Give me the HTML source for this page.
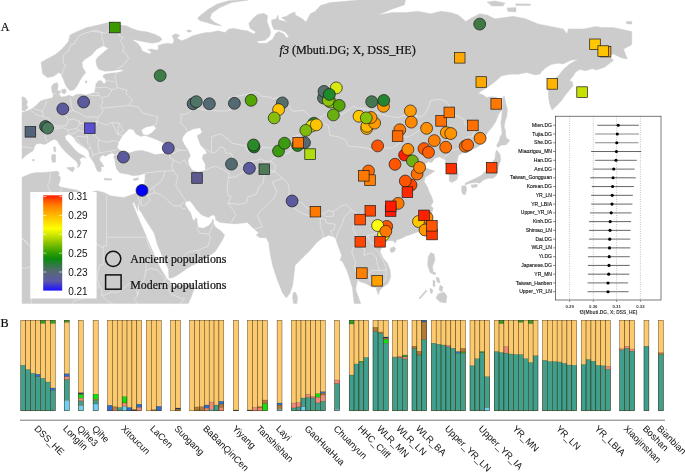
<!DOCTYPE html>
<html><head><meta charset="utf-8"><title>f3 map</title>
<style>
html,body{margin:0;padding:0;background:#fff}
svg{display:block}
text{font-family:"Liberation Sans",Arial,sans-serif}
.tm{font-family:"Liberation Serif","Times New Roman",serif;fill:#111;stroke:#111;stroke-width:.22px}
</style></head><body>
<svg width="685" height="473" viewBox="0 0 685 473">
<defs>
<linearGradient id="cb" x1="0" y1="0" x2="0" y2="1">
<stop offset="0" stop-color="#ff1e00"/>
<stop offset="0.1" stop-color="#ff7a00"/>
<stop offset="0.2" stop-color="#ffb400"/>
<stop offset="0.35" stop-color="#ffff00"/>
<stop offset="0.43" stop-color="#c4e000"/>
<stop offset="0.52" stop-color="#78bc00"/>
<stop offset="0.61" stop-color="#2c9c00"/>
<stop offset="0.67" stop-color="#0c8a10"/>
<stop offset="0.73" stop-color="#2e7a44"/>
<stop offset="0.8" stop-color="#546a72"/>
<stop offset="0.9" stop-color="#5c58a8"/>
<stop offset="1" stop-color="#1a10ff"/>
</linearGradient>
</defs>
<rect width="685" height="473" fill="#fff"/>
<g id="map" fill="#cccccc" stroke="#cccccc" stroke-width="0.4" stroke-linejoin="round">
<polygon points="22.0,112.5 27.5,110.8 32.5,108.3 36.7,105.0 40.0,101.4 42.5,100.2 47.5,98.9 52.6,97.7 53.2,95.2 51.9,91.4 51.3,87.0 53.2,83.9 57.0,82.6 58.2,85.1 57.6,90.1 58.8,93.9 61.3,97.0 65.1,96.4 68.9,95.2 72.6,96.4 76.4,94.5 81.4,93.9 85.2,95.2 90.2,93.9 94.6,92.6 95.2,88.9 95.9,83.9 98.4,80.7 101.5,80.7 104.0,83.9 105.9,82.6 105.3,78.8 102.8,77.0 104.0,74.4 110.3,73.2 117.8,72.6 124.1,70.7 120.4,69.4 112.8,70.7 105.3,71.3 99.0,69.4 96.5,65.0 95.9,60.0 97.5,57.5 103.3,52.5 108.3,48.3 103.3,45.8 96.7,49.2 91.7,55.0 85.0,59.2 82.0,62.5 82.7,67.5 85.8,72.6 82.7,76.3 80.2,80.1 77.7,85.1 74.5,89.5 70.1,90.8 67.0,87.6 64.5,82.6 62.6,77.6 60.7,73.8 58.8,72.6 53.8,76.3 47.5,77.6 42.5,73.8 41.3,63.8 40.8,62.5 48.3,58.3 55.8,54.2 61.7,49.2 68.3,41.7 70.0,35.0 76.7,31.7 86.7,27.5 98.3,25.0 108.3,22.5 114.0,22.0 120.0,25.0 126.3,25.7 132.6,28.8 138.8,30.7 147.6,31.9 155.2,34.5 160.2,37.0 162.1,39.5 158.9,42.0 152.6,43.2 145.1,42.0 138.8,40.7 132.6,39.5 132.6,40.1 137.6,43.2 140.7,47.0 142.0,50.8 146.4,52.7 150.1,53.9 151.4,52.0 147.6,49.5 151.4,48.9 156.4,50.2 158.9,48.3 157.7,45.8 162.7,43.9 167.7,43.2 172.7,43.9 174.0,40.1 172.1,35.7 175.2,33.8 179.6,35.1 177.1,38.2 181.5,40.7 186.5,38.9 192.8,35.7 200.4,33.8 206.0,32.6 210.0,32.5 218.3,30.8 225.0,32.5 228.3,29.2 233.3,28.3 241.7,30.0 247.5,30.8 253.8,33.9 255.7,32.0 250.0,28.2 248.8,23.2 253.8,17.6 257.6,14.4 263.9,13.2 267.6,15.7 267.0,21.3 268.9,26.4 270.8,32.0 269.5,36.4 265.1,40.2 256.3,41.4 258.8,43.3 266.4,43.3 272.6,38.9 275.8,33.3 278.9,31.4 283.9,33.9 286.5,37.7 289.0,37.0 285.2,32.0 280.2,30.1 273.9,29.5 272.0,25.1 271.4,20.1 276.4,18.8 277.7,15.1 278.9,20.1 282.7,20.7 287.7,22.0 281.4,17.6 286.5,16.3 290.2,13.8 295.2,11.9 295.2,15.1 300.3,17.6 304.0,20.1 305.3,23.9 302.1,26.4 300.9,22.6 303.0,21.0 306.5,21.3 310.3,13.8 315.3,11.3 320.4,5.5 330.2,2.5 345.2,1.3 359.0,0.0 405.5,0.0 404.3,5.0 393.0,8.8 377.9,15.1 392.0,12.6 405.5,12.6 418.1,11.3 430.7,13.8 440.7,11.3 450.8,12.6 458.3,15.1 465.8,21.4 472.1,17.6 479.7,13.8 487.2,15.0 494.7,18.8 504.8,17.6 513.0,16.3 525.6,18.8 538.1,23.9 550.7,26.4 563.3,28.9 567.0,33.9 568.3,28.9 583.4,28.9 595.9,26.4 600.9,27.6 613.5,27.6 626.0,30.2 631.8,31.4 631.8,44.0 631.0,45.2 623.6,49.0 627.3,59.0 621.0,57.8 613.5,54.0 608.5,55.3 613.5,60.3 604.6,67.3 596.4,70.0 592.2,68.7 585.4,70.7 579.9,69.4 575.7,72.1 573.0,76.2 569.6,80.4 572.5,82.0 573.0,85.8 569.6,90.0 566.1,94.1 562.0,100.0 556.5,106.0 552.0,110.0 549.6,104.0 548.5,97.0 548.2,88.0 550.5,82.0 557.9,76.2 563.4,69.4 568.9,64.5 574.4,61.1 578.5,59.7 573.0,59.7 567.5,61.8 563.4,63.9 557.9,63.2 551.0,64.5 545.5,68.0 541.7,71.5 540.0,74.0 535.0,75.0 526.7,72.5 518.3,74.2 510.0,74.2 501.7,75.8 495.0,81.7 488.3,86.7 481.7,90.8 478.3,93.3 483.3,95.0 486.7,97.5 490.0,96.7 496.0,97.0 500.5,100.0 501.7,110.0 498.3,115.0 495.8,121.7 492.5,126.7 488.3,131.7 485.0,136.7 485.0,140.0 478.3,146.7 471.7,150.0 466.7,152.5 461.7,153.3 458.3,155.8 456.7,163.3 458.3,175.0 456.7,180.0 451.7,182.5 449.2,180.8 449.2,175.0 447.5,168.3 445.0,163.3 445.8,160.0 441.7,158.3 440.0,156.7 435.0,158.3 431.7,162.5 428.3,161.7 425.0,164.2 422.0,166.0 426.7,168.3 431.7,170.0 435.0,170.8 430.0,174.2 425.0,177.5 424.2,181.7 427.5,186.7 429.2,191.7 431.7,196.7 433.3,201.7 430.8,205.8 433.3,208.3 431.7,213.3 430.0,220.0 425.0,226.0 418.3,231.7 411.7,234.2 406.7,235.8 401.7,238.3 396.7,240.0 395.0,243.3 393.3,240.8 388.3,240.8 385.0,243.3 381.7,247.5 380.0,251.7 383.3,258.3 387.5,263.3 390.0,270.0 390.8,276.7 388.3,283.3 383.3,286.7 380.0,290.0 378.3,295.0 376.7,290.0 375.8,287.5 371.7,286.7 365.0,283.3 360.0,281.7 358.3,280.0 356.7,283.3 355.8,290.0 358.3,296.7 360.8,303.5 354.2,303.5 353.3,296.7 352.5,288.3 350.0,280.0 346.7,270.0 343.3,263.3 341.7,260.8 340.0,260.8 341.6,255.3 337.8,245.2 335.3,237.7 329.0,235.2 322.8,237.7 316.5,242.7 310.2,250.3 302.7,257.8 295.1,265.3 293.9,275.4 292.6,285.4 290.1,293.0 286.3,298.0 282.6,293.0 277.5,280.4 272.5,265.3 270.0,252.8 268.7,242.7 266.2,237.7 259.9,237.7 256.2,235.2 258.7,232.7 252.4,227.6 247.4,222.6 234.8,223.9 228.3,223.3 220.0,222.5 215.8,220.0 215.0,215.8 212.5,215.0 208.3,217.5 201.7,215.0 196.7,210.0 193.3,205.0 190.0,200.8 185.8,201.7 185.0,204.2 187.5,208.3 190.8,213.3 192.5,219.2 194.5,220.8 195.5,218.0 197.0,218.5 197.2,223.0 198.3,227.5 203.3,228.3 208.3,225.8 211.7,222.5 212.5,219.2 213.5,220.0 213.3,223.3 215.8,227.5 220.8,230.8 224.7,235.0 222.5,240.0 218.3,246.7 215.0,251.7 208.3,256.7 200.0,261.7 191.7,265.8 186.7,268.8 177.0,275.4 172.0,277.9 169.0,278.0 168.3,268.8 162.5,256.7 157.5,245.0 154.2,233.3 146.7,221.7 141.0,212.0 139.2,210.0 138.6,204.0 137.9,203.5 137.6,210.5 134.2,202.5 133.0,202.5 132.5,203.3 135.8,211.7 140.0,221.7 145.0,233.3 150.0,245.0 155.0,256.7 160.8,268.8 167.5,279.5 170.0,281.0 172.0,286.7 182.0,285.4 193.4,284.2 194.6,288.0 190.8,298.0 188.3,303.5 22.0,303.5 22.0,177.3 25.6,175.7 30.9,173.6 36.2,172.5 42.5,172.5 48.8,172.0 54.1,171.5 57.3,171.0 59.4,173.1 58.4,175.2 60.5,177.3 59.9,181.5 58.4,185.0 60.5,187.0 66.7,188.3 76.7,190.0 82.0,193.0 88.0,196.0 92.0,192.0 96.5,190.8 104.0,192.5 110.7,195.8 117.3,196.7 124.0,197.5 130.7,195.0 137.8,192.5 142.5,192.0 144.2,185.0 145.0,178.3 145.0,173.3 140.0,175.0 133.3,175.8 127.5,174.2 121.7,173.3 119.7,172.7 116.5,168.9 115.3,163.9 114.7,158.9 113.4,157.0 115.3,155.1 112.8,153.2 109.0,153.9 105.2,156.4 103.4,155.1 100.2,157.0 99.6,160.1 102.1,163.3 104.0,166.4 100.9,167.0 101.5,170.8 99.6,172.1 97.1,170.8 95.8,167.7 94.6,163.9 92.1,160.1 89.5,156.4 88.9,152.0 86.4,148.8 81.4,145.7 76.4,141.9 73.9,137.5 70.7,135.0 67.6,134.4 65.1,136.3 65.7,139.4 68.8,142.6 72.0,146.3 75.1,150.1 78.9,153.2 83.9,155.7 85.8,158.2 82.6,157.0 79.5,159.5 80.8,162.6 79.5,166.4 77.0,167.7 78.2,165.2 76.4,161.4 72.6,158.2 67.6,153.9 62.6,148.8 59.4,144.5 57.3,140.8 54.1,139.2 51.0,140.8 47.8,142.9 44.6,144.5 40.4,143.5 36.2,144.0 34.6,146.6 33.0,150.9 28.7,153.5 24.5,156.7 22.0,159.3"/>
<polygon points="22.0,96.7 25.0,97.5 27.5,101.7 26.7,105.0 28.3,107.5 25.0,110.8 22.0,110.8"/>
<polygon points="61.5,89.5 65.5,89.0 66.4,92.0 64.5,93.9 62.0,93.0"/>
<polygon points="57.8,91.0 60.5,90.8 60.5,93.3 58.2,93.3"/>
<polygon points="32.4,159.5 34.6,159.3 34.4,160.9 32.6,160.9"/>
<polygon points="85.4,80.7 87.0,81.0 86.6,83.2 85.2,82.8"/>
<polygon points="186.5,30.3 190.5,30.0 191.6,31.5 188.0,32.2"/>
<polygon points="197.5,18.3 201.7,14.2 208.3,9.2 216.7,4.2 228.3,0.8 240.0,0.0 248.3,0.0 231.7,2.5 220.0,7.5 211.7,13.3 210.0,18.3 215.0,22.5 221.7,25.8 215.0,25.0 206.7,22.5 200.0,20.8"/>
<polygon points="504.2,95.8 505.8,103.3 507.5,110.0 506.7,116.7 505.0,121.7 504.2,126.7 505.8,131.7 505.0,138.8 503.5,141.0 502.5,138.8 501.7,130.0 500.8,123.3 501.7,116.7 502.2,110.0 502.5,98.3"/>
<polygon points="500.0,136.7 502.5,133.3 504.0,132.0 506.7,138.3 510.0,140.5 505.8,145.0 501.7,145.0 497.5,147.5 496.7,145.0 499.2,140.8"/>
<polygon points="496.7,150.0 500.0,154.2 500.8,160.0 498.3,166.7 496.7,175.0 493.3,178.3 488.3,178.3 483.3,180.0 480.0,183.3 475.8,182.5 470.0,183.3 465.0,185.0 465.0,183.3 470.0,180.8 475.8,178.3 481.7,175.0 486.7,170.0 491.7,163.3 495.0,158.3 495.8,151.7"/>
<polygon points="461.7,186.0 466.0,185.8 466.7,190.0 465.0,195.0 462.5,194.0 461.5,190.0"/>
<polygon points="470.8,185.0 477.5,184.2 477.0,187.0 472.0,187.8"/>
<polygon points="431.0,223.0 434.0,224.0 434.0,231.0 431.5,238.0 429.0,233.0 428.5,227.0"/>
<polygon points="390.5,248.0 394.0,246.7 395.8,248.5 394.0,252.0 391.0,252.5 390.0,250.0"/>
<polygon points="430.8,252.5 434.2,254.2 435.0,260.0 432.5,266.7 433.3,271.7 436.0,273.0 435.0,275.0 430.0,272.5 427.5,265.0 428.3,256.7"/>
<polygon points="436.0,277.0 439.0,278.0 440.0,283.0 437.0,282.0"/>
<polygon points="440.0,285.0 443.0,287.0 442.0,292.0 439.0,290.0"/>
<polygon points="438.0,294.0 444.0,292.0 447.0,296.0 446.0,303.0 440.0,302.0 436.0,298.0"/>
<polygon points="433.0,280.0 435.0,281.0 435.0,287.0 433.0,286.0"/>
<polygon points="430.0,288.0 433.0,290.0 432.0,294.0 430.0,292.0"/>
<polygon points="419.0,298.0 426.0,290.0 427.0,291.0 420.0,299.0"/>
<polygon points="293.0,293.0 295.5,292.0 297.5,297.0 297.0,303.5 293.5,303.5 292.5,298.0"/>
<polygon points="66.3,167.7 73.9,167.0 74.5,168.9 72.6,172.1 68.8,169.5"/>
<polygon points="52.0,154.5 55.6,154.5 55.6,162.0 52.5,162.6 51.3,158.0"/>
<polygon points="53.5,147.0 55.5,146.7 55.8,151.7 54.0,151.5"/>
<polygon points="104.0,178.3 111.5,178.8 111.5,180.2 104.5,180.0"/>
<polygon points="133.0,179.0 138.5,177.5 138.0,180.0 134.0,180.5"/>
<polygon points="487.0,2.0 495.0,1.0 505.0,3.0 503.0,6.0 492.0,6.0"/>
<polygon points="507.0,8.0 516.0,7.5 516.0,12.0 508.0,11.5"/>
<polygon points="626.0,21.6 631.8,21.4 631.8,24.0 627.0,24.0"/>
<polygon points="515.5,3.8 530.6,4.0 530.0,5.5 516.0,5.5"/>
</g>
<g id="water" fill="#fff" stroke="#fff" stroke-width="0.3" stroke-linejoin="round">
<polygon points="117.5,147.5 119.2,141.7 123.3,135.0 129.2,129.2 133.3,130.0 135.8,134.2 140.8,136.7 145.0,135.8 150.0,137.5 156.7,140.0 161.7,142.5 168.0,147.0 170.0,151.7 163.3,153.3 155.0,154.2 148.3,151.7 141.7,150.0 135.0,150.8 130.0,152.5 125.0,151.7 120.0,150.0"/>
<polygon points="141.7,130.0 145.8,127.5 153.3,125.8 155.8,128.3 151.7,132.5 147.5,135.0 143.3,134.2"/>
<polygon points="183.3,136.7 186.7,132.5 193.3,129.2 200.0,128.3 201.7,132.5 196.7,135.8 198.3,140.0 200.0,145.0 204.2,149.2 206.7,153.3 203.3,154.2 201.7,158.3 205.0,164.2 205.0,170.0 198.3,171.7 192.5,170.0 189.2,165.0 188.3,160.0 190.8,155.8 188.3,150.0 185.0,145.0 182.5,140.0"/>
<polygon points="116.0,154.0 121.0,152.8 122.0,154.0 117.0,155.5"/>
</g>
<g id="borders" fill="none" stroke="#f4f4f4" stroke-width="0.5" stroke-linejoin="round">
<polyline points="187.9,130.9 181.1,123.5 181.1,114.7 187.2,113.9 194.6,107.7 206.5,110.4 213.3,110.4 221.7,111.2 230.2,110.4 228.5,98.1 245.4,94.6 255.6,91.5 262.3,96.4 270.8,97.2 272.5,99.0 281.0,96.4 285.7,100.7 292.8,111.2 303.6,110.4 310.4,116.5 317.5,118.2"/>
<polyline points="319.2,118.2 326.6,113.9 335.1,111.2 341.9,114.7 353.7,106.0 357.1,108.2 367.9,109.0 368.3,112.5 377.4,113.0 384.2,115.2 397.7,117.8 407.9,113.9 417.0,115.6"/>
<polyline points="319.2,118.2 322.6,122.6 328.3,125.7 330.0,135.3 338.5,137.0 345.3,140.1 348.3,146.2 363.9,147.5 377.4,151.5 385.9,148.0 392.7,148.0 400.4,142.3 400.8,136.6 407.9,137.0 414.7,133.5 419.4,130.0 427.2,129.2 421.4,123.9 414.7,120.0 417.0,115.6"/>
<polyline points="417.0,115.6 420.8,116.9 425.8,113.4 428.2,107.3 430.9,100.3 440.0,99.4 446.8,101.6 453.6,113.9 463.7,119.5 465.4,124.8 478.0,122.2 475.6,126.5 472.5,136.2 466.1,137.5 466.1,143.6 464.1,148.0"/>
<polyline points="464.1,148.0 460.4,148.0 455.3,149.7 451.6,150.6 446.1,155.8 442.8,158.5"/>
<polyline points="450.9,168.1 456.3,164.6"/>
<polyline points="317.5,118.2 312.1,122.2 311.4,127.9 303.0,127.0 300.6,134.4 293.5,136.6 295.5,144.5 293.5,148.8"/>
<polyline points="293.5,148.8 289.4,146.7 278.2,146.2 270.8,148.0 262.3,147.1 262.0,148.4"/>
<polyline points="293.5,148.8 286.7,153.7 282.3,154.1 271.8,159.3 271.1,161.1"/>
<polyline points="271.1,161.1 275.5,165.5 275.2,170.3 274.5,171.6"/>
<polyline points="271.1,161.1 265.0,161.5 261.0,158.9 256.6,160.7 250.1,161.5 252.2,171.6 258.9,169.0 264.0,165.9 264.0,172.5 270.1,169.8 274.5,171.6"/>
<polyline points="262.0,148.4 255.6,152.3 252.2,153.7 247.1,150.2 245.4,145.8 231.9,143.2 228.5,139.2 220.0,134.0 211.6,136.6 211.6,152.8 214.9,152.8 220.4,146.7 225.1,148.8 225.4,152.8 231.5,153.7 233.2,158.5 239.3,163.3 247.1,169.8 252.2,171.6"/>
<polyline points="211.6,152.8 207.2,149.7 199.7,150.6"/>
<polyline points="204.5,170.3 212.2,167.2 215.6,166.3 222.7,169.4 229.2,173.3 228.5,177.7 235.3,176.8 240.3,174.2 247.1,169.8"/>
<polyline points="228.5,177.7 227.1,186.9 228.1,195.6 231.2,196.1 228.1,203.1 235.9,214.5 230.5,223.2"/>
<polyline points="228.1,203.1 238.6,204.4 246.4,203.1 247.8,197.0 256.6,193.9 258.9,186.9 262.7,183.8 264.4,174.2 274.5,171.6"/>
<polyline points="274.5,171.6 282.6,178.2 272.5,181.7 276.9,192.1 273.8,197.8 269.1,202.6 260.6,211.0 257.6,215.3 259.6,221.0 262.3,226.7 252.9,229.8"/>
<polyline points="282.6,178.2 287.7,182.5 289.4,191.3 288.7,197.0 296.2,201.3 301.3,202.6 306.3,207.5 313.1,211.0 319.9,211.4 323.3,214.0 328.3,210.5 333.4,211.8 341.9,205.7 347.0,204.8 351.4,210.1 356.1,213.1 355.4,220.6 352.7,228.5 357.1,237.2 361.2,239.4 364.6,240.7 367.6,235.5 374.0,234.1 378.4,231.5 383.2,233.7 383.2,237.2 387.2,239.4"/>
<polyline points="293.1,207.5 297.9,211.0 303.0,213.6 312.4,217.1 320.2,218.0 320.2,211.4"/>
<polyline points="323.3,214.0 326.0,216.6 333.4,216.2 333.4,211.8"/>
<polyline points="320.2,218.0 320.2,226.3 322.6,232.0 323.3,239.0"/>
<polyline points="320.2,218.0 326.0,219.7 326.0,222.8 335.1,224.1 334.1,229.8 330.7,230.6 331.7,233.3 335.5,240.3"/>
<polyline points="351.4,210.1 344.3,217.1 342.2,224.1 337.8,232.8 335.5,240.3"/>
<polyline points="360.8,244.6 357.1,246.0 353.7,247.3 351.7,252.5 355.8,262.1 354.4,266.9 357.8,276.6 357.8,282.3 356.1,288.8"/>
<polyline points="364.6,240.7 360.8,244.6"/>
<polyline points="360.8,244.6 362.2,248.1 364.6,248.1 363.9,255.6 367.6,253.8 371.7,252.9 376.4,257.3 376.7,262.1 379.5,270.4"/>
<polyline points="367.6,235.5 370.7,242.5 375.7,244.2 374.0,248.1 378.1,251.6 382.5,259.1 385.9,266.9 386.2,270.0"/>
<polyline points="379.5,270.4 386.2,270.0 385.9,278.8 380.8,285.3 375.4,287.9"/>
<polyline points="370.3,282.3 368.6,273.9 372.3,270.4 379.5,270.4"/>
<polyline points="173.6,159.8 171.6,165.5 173.6,170.7 177.7,176.8 175.7,184.7 178.0,189.1 183.5,197.8 186.5,202.2"/>
<polyline points="144.5,176.0 146.2,172.5 150.6,172.5 159.8,171.2 165.5,171.2 173.6,170.7"/>
<polyline points="162.5,151.9 169.2,153.7 169.9,158.0 173.6,159.8 179.4,163.3 184.5,159.8 187.5,165.5"/>
<polyline points="157.4,143.6 165.9,144.5 172.6,146.7 179.4,150.2 186.5,150.6"/>
<polyline points="169.2,153.7 174.3,152.8 179.4,150.2"/>
<polyline points="165.5,171.2 161.5,181.2 153.3,187.3 154.7,192.6 147.2,195.6 150.6,200.0 148.9,202.2 143.9,205.7 140.5,204.8"/>
<polyline points="153.3,187.3 146.6,192.1 142.8,190.4 142.5,187.8 145.9,183.8 143.9,182.1"/>
<polyline points="142.5,190.4 142.2,195.6 140.5,204.4"/>
<polyline points="138.1,196.5 140.1,204.4"/>
<polyline points="154.7,192.6 158.8,193.9 164.5,197.4 173.3,205.7 179.4,206.1 183.5,202.2 184.5,202.2"/>
<polyline points="179.4,206.1 182.8,208.8 185.8,208.8"/>
<polyline points="166.9,261.7 168.6,257.3 175.0,257.3 181.1,259.5 187.9,252.1 198.0,250.3 208.2,246.0 210.5,237.2 208.9,234.1 200.1,233.3 196.7,227.6"/>
<polyline points="198.0,250.3 201.7,260.8"/>
<polyline points="208.9,234.1 211.6,227.6 212.9,224.5"/>
<polyline points="106.6,195.2 106.6,237.2 146.9,237.2"/>
<polyline points="106.6,237.2 106.6,246.0 103.2,246.0 103.2,248.1 76.2,231.1 72.8,232.8 70.1,234.6 62.6,230.6 55.8,226.3 54.2,218.4 55.8,215.3 55.2,206.6 54.2,201.3 56.9,198.3 56.5,195.2 60.9,191.3 60.9,188.2"/>
<polyline points="54.2,201.3 50.1,191.3 47.4,185.6 49.8,181.7 50.4,172.0"/>
<polyline points="62.6,230.6 47.4,242.5 36.2,249.9 32.8,247.7 32.5,249.9 28.1,244.6 22.0,238.1"/>
<polyline points="72.8,232.8 75.8,244.2 74.5,259.9 67.7,270.4 70.1,277.4 71.4,280.1"/>
<polyline points="36.2,249.9 36.2,259.5 33.8,266.1 25.0,268.3 22.0,267.8"/>
<polyline points="33.8,266.1 34.2,282.3 31.5,289.7 31.1,298.9 31.1,305.4"/>
<polyline points="67.7,270.4 67.7,273.5 55.8,275.7 45.7,276.6 37.2,273.5 34.2,282.3"/>
<polyline points="103.2,248.1 103.2,264.8 99.5,265.2 98.2,271.8 96.8,277.9 99.5,285.8 102.2,290.6 101.5,295.4"/>
<polyline points="71.4,280.1 72.8,289.7 69.1,291.4 74.5,300.6 71.1,305.0"/>
<polyline points="74.5,300.6 84.6,298.4 93.1,291.9 99.5,285.8"/>
<polyline points="101.5,295.4 106.6,300.2 114.7,305.0"/>
<polyline points="101.5,295.4 104.9,294.9 111.7,291.9 116.8,292.8 123.5,288.4 132.0,280.9 134.4,286.6 137.1,291.9 137.4,295.8 133.7,299.3 138.8,304.6"/>
<polyline points="146.9,237.2 147.2,241.6 152.7,254.7 147.2,259.1 145.6,270.9 150.3,268.3 157.4,270.0 165.5,278.8 167.9,277.9"/>
<polyline points="145.6,270.9 144.5,278.3 140.5,285.3 137.4,295.8"/>
<polyline points="165.5,278.8 163.5,283.1 167.6,283.1 168.6,283.6"/>
<polyline points="167.6,283.1 166.9,285.8 170.9,294.1 181.1,298.4 184.5,298.4 174.3,311.6 169.2,312.4"/>
<polyline points="28.1,244.6 26.1,241.6 22.0,238.1"/>
<polyline points="117.1,26.8 120.2,31.6 118.5,35.1 123.5,37.3 120.2,40.8 123.9,46.1 122.5,51.3 125.2,52.6 128.6,58.3 122.9,65.7 116.4,68.8"/>
<polyline points="91.7,31.2 102.2,32.5 101.5,36.4 103.2,41.2 103.9,45.6"/>
<polyline points="109.3,29.4 113.4,27.7 117.1,26.8"/>
<polyline points="91.7,31.2 95.5,30.3 105.6,33.4 109.3,29.4"/>
<polyline points="91.7,31.2 83.3,33.8 78.5,36.4 74.1,43.9 71.1,44.3 68.4,50.9 65.0,53.5 63.0,55.7 63.3,63.6 65.7,65.3 63.3,70.1 61.9,74.5 59.9,74.9"/>
<polyline points="116.8,73.2 114.7,76.2 115.8,80.6 117.5,87.6 126.6,90.2 126.3,93.7 132.7,99.9 128.3,105.5 138.4,106.9 142.5,113.0 150.6,115.2 157.7,116.5 156.4,123.9 151.3,127.4"/>
<polyline points="99.2,95.5 101.5,97.7 102.9,102.9 100.5,105.1 101.9,108.2 103.2,111.2 98.5,116.9 96.8,121.7 106.3,124.8 112.0,122.6 117.5,134.4 122.5,135.7"/>
<polyline points="89.0,95.5 99.2,95.5 98.8,93.3 94.1,92.0"/>
<polyline points="93.1,88.0 106.6,87.2 112.0,89.8 117.5,87.6"/>
<polyline points="104.6,80.2 114.7,81.9"/>
<polyline points="112.0,89.8 108.3,95.9 101.5,97.7"/>
<polyline points="128.3,105.5 101.9,108.2"/>
<polyline points="70.1,97.7 71.4,103.4 71.8,107.7 72.8,110.4 63.0,113.4 68.7,120.0 66.0,125.7 56.5,126.1 54.5,125.7 47.7,125.2 49.8,119.1 43.7,116.9 42.3,111.2 45.7,105.1 46.4,100.7"/>
<polyline points="72.8,110.4 79.2,113.0 85.6,116.9 98.5,116.9"/>
<polyline points="68.7,120.0 72.8,119.1 79.2,120.9 80.2,123.5 96.8,121.7"/>
<polyline points="79.2,120.9 80.2,123.5 76.5,128.3 78.2,130.0 85.6,132.7 90.7,131.4 96.5,124.8 96.8,121.7"/>
<polyline points="54.5,125.7 57.5,128.3 63.3,127.9 68.4,130.0 76.5,128.3"/>
<polyline points="47.7,125.2 42.3,131.4 45.7,132.7 50.8,131.4 57.5,128.3"/>
<polyline points="43.7,116.9 36.2,114.7 30.5,109.9"/>
<polyline points="42.3,111.2 33.5,108.6"/>
<polyline points="42.3,131.4 45.7,132.7 45.0,137.5 47.4,141.8"/>
<polyline points="68.4,130.0 68.0,134.0"/>
<polyline points="78.2,130.0 75.1,133.1 68.0,134.4"/>
<polyline points="85.6,132.7 87.7,137.0 86.3,137.0 76.8,136.2 75.5,137.5 81.6,145.3 84.6,147.5"/>
<polyline points="90.7,131.4 94.8,135.7 98.2,138.3 98.8,140.1 97.8,146.2 99.9,152.8"/>
<polyline points="87.7,137.0 87.7,143.2 90.7,146.2 89.7,147.1 87.7,150.2"/>
<polyline points="89.7,147.1 91.7,150.2 93.1,155.0 89.7,159.8"/>
<polyline points="93.1,155.0 99.9,152.8 111.0,151.0 112.0,152.8 110.0,155.0"/>
<polyline points="98.8,140.1 106.6,142.3 113.4,140.5 118.8,142.3"/>
<polyline points="111.0,151.0 116.8,149.7"/>
<polyline points="117.5,134.4 119.1,123.0 112.0,122.6"/>
<polyline points="117.5,134.4 123.5,130.5 120.8,125.7 119.1,123.0"/>
<polyline points="22.0,146.7 27.1,147.5 32.8,148.0"/>
<polyline points="51.4,93.3 55.5,93.7"/>
</g>
<g id="markers" stroke="#1a1a1a" stroke-width="0.7">
<rect x="109.60" y="22.20" width="10.6" height="10.6" fill="#3c9a00"/>
<circle cx="160.2" cy="75.6" r="5.95" fill="#3e7d45"/>
<circle cx="479.7" cy="24.1" r="5.95" fill="#3f7a44"/>
<rect x="454.40" y="52.50" width="10.6" height="10.6" fill="#ffa800"/>
<rect x="476.00" y="76.70" width="10.6" height="10.6" fill="#ffa800"/>
<rect x="490.90" y="98.60" width="10.6" height="10.6" fill="#ff7800"/>
<rect x="589.70" y="39.00" width="10.6" height="10.6" fill="#ffc800"/>
<rect x="600.30" y="46.30" width="10.6" height="10.6" fill="#ffa800"/>
<rect x="597.90" y="45.80" width="10.6" height="10.6" fill="#ffc400"/>
<rect x="547.00" y="78.60" width="10.6" height="10.6" fill="#ffb400"/>
<rect x="576.80" y="86.80" width="10.6" height="10.6" fill="#c8e000"/>
<circle cx="62.8" cy="108.9" r="5.95" fill="#5c5a9e"/>
<circle cx="83.6" cy="102" r="5.95" fill="#5c5a9e"/>
<rect x="25.10" y="126.50" width="10.6" height="10.6" fill="#52637a"/>
<circle cx="45.5" cy="126.5" r="5.95" fill="#3f6e52"/>
<circle cx="47.6" cy="128.1" r="5.95" fill="#4a7a5e"/>
<rect x="84.50" y="122.90" width="10.6" height="10.6" fill="#5a4fd0"/>
<circle cx="123.4" cy="157.1" r="5.95" fill="#5c5a9e"/>
<circle cx="168.3" cy="148.1" r="5.95" fill="#5c5a9e"/>
<circle cx="142" cy="190.4" r="5.95" fill="#0000ff"/>
<rect x="191.70" y="172.70" width="10.6" height="10.6" fill="#5c5a8e"/>
<circle cx="231.5" cy="164.1" r="5.95" fill="#546a72"/>
<circle cx="249.4" cy="168.3" r="5.95" fill="#5c5a9e"/>
<rect x="259.00" y="163.90" width="10.6" height="10.6" fill="#4f7a5a"/>
<circle cx="292.1" cy="201" r="5.95" fill="#5c5a9e"/>
<rect x="310.10" y="206.40" width="10.6" height="10.6" fill="#ff7800"/>
<circle cx="193.1" cy="103.8" r="5.95" fill="#52686f"/>
<circle cx="196.3" cy="101.7" r="5.95" fill="#4f7566"/>
<circle cx="209.4" cy="103.8" r="5.95" fill="#546a72"/>
<circle cx="234.4" cy="103.3" r="5.95" fill="#546a72"/>
<circle cx="251.1" cy="100.3" r="5.95" fill="#55a505"/>
<circle cx="254" cy="147" r="5.95" fill="#1f7a20"/>
<circle cx="253.5" cy="145" r="5.95" fill="#2a8a2a"/>
<circle cx="282.3" cy="102.9" r="5.95" fill="#546e6a"/>
<circle cx="278.6" cy="109.6" r="5.95" fill="#ffc400"/>
<circle cx="274.2" cy="117.9" r="5.95" fill="#86bf0b"/>
<circle cx="278.5" cy="151" r="5.95" fill="#3c9a10"/>
<circle cx="284.5" cy="143.2" r="5.95" fill="#3c9a10"/>
<circle cx="297.6" cy="145.5" r="5.95" fill="#1f8a1f"/>
<circle cx="304.5" cy="142.7" r="5.95" fill="#546a72"/>
<rect x="292.90" y="137.40" width="10.6" height="10.6" fill="#ff7800"/>
<rect x="304.80" y="148.80" width="10.6" height="10.6" fill="#b0dc10"/>
<circle cx="313.8" cy="123.2" r="5.95" fill="#2a8a2a"/>
<circle cx="311.7" cy="126" r="5.95" fill="#e8e810"/>
<circle cx="316.3" cy="124.8" r="5.95" fill="#ffc400"/>
<circle cx="305.8" cy="130.4" r="5.95" fill="#7fba0b"/>
<circle cx="323.5" cy="98" r="5.95" fill="#546e6a"/>
<circle cx="324" cy="91.4" r="5.95" fill="#546e6a"/>
<circle cx="336.3" cy="87.9" r="5.95" fill="#d9e810"/>
<circle cx="330.4" cy="102" r="5.95" fill="#9ccc10"/>
<circle cx="328.3" cy="100.4" r="5.95" fill="#8cc50a"/>
<circle cx="329.4" cy="94.4" r="5.95" fill="#1f8a2a"/>
<circle cx="339.2" cy="105.4" r="5.95" fill="#55a505"/>
<circle cx="333.4" cy="114.9" r="5.95" fill="#6aaf10"/>
<circle cx="383.5" cy="106.3" r="5.95" fill="#ff9a00"/>
<circle cx="371.7" cy="101.7" r="5.95" fill="#44774f"/>
<circle cx="383.8" cy="100.4" r="5.95" fill="#238530"/>
<circle cx="366.7" cy="128.5" r="5.95" fill="#ffb000"/>
<circle cx="366.9" cy="126.3" r="5.95" fill="#ffb800"/>
<circle cx="374.6" cy="123.1" r="5.95" fill="#ff9a00"/>
<circle cx="371" cy="117.5" r="5.95" fill="#ff9500"/>
<circle cx="359" cy="116.3" r="5.95" fill="#ffc800"/>
<circle cx="366.3" cy="117.9" r="5.95" fill="#86c20b"/>
<circle cx="410.4" cy="110.9" r="5.95" fill="#ff9a00"/>
<circle cx="411.3" cy="122.1" r="5.95" fill="#ff8800"/>
<circle cx="399.8" cy="129.8" r="5.95" fill="#ff7a00"/>
<rect x="392.30" y="130.80" width="10.6" height="10.6" fill="#ff6a00"/>
<circle cx="426.6" cy="128.3" r="5.95" fill="#ff9000"/>
<rect x="435.80" y="115.60" width="10.6" height="10.6" fill="#ff7000"/>
<rect x="444.00" y="107.10" width="10.6" height="10.6" fill="#ff7800"/>
<rect x="467.60" y="120.10" width="10.6" height="10.6" fill="#ff7000"/>
<circle cx="377.6" cy="145.9" r="5.95" fill="#ff5500"/>
<circle cx="404.6" cy="155" r="5.95" fill="#ff2000"/>
<circle cx="407.9" cy="149.4" r="5.95" fill="#ff8c00"/>
<circle cx="424" cy="148.6" r="5.95" fill="#ff5a00"/>
<circle cx="428.5" cy="152.3" r="5.95" fill="#ff6000"/>
<circle cx="434.3" cy="140.6" r="5.95" fill="#ff8000"/>
<circle cx="446.3" cy="132.6" r="5.95" fill="#ff9a00"/>
<circle cx="450.8" cy="133.5" r="5.95" fill="#ff9200"/>
<circle cx="445.7" cy="147.2" r="5.95" fill="#ff7000"/>
<circle cx="465.2" cy="146.3" r="5.95" fill="#ff7000"/>
<circle cx="467.6" cy="145" r="5.95" fill="#ff6800"/>
<circle cx="480.1" cy="138.3" r="5.95" fill="#ff8000"/>
<circle cx="412.4" cy="160.9" r="5.95" fill="#70b010"/>
<circle cx="417.1" cy="174" r="5.95" fill="#ff7000"/>
<circle cx="419.6" cy="167.5" r="5.95" fill="#ff8000"/>
<circle cx="395" cy="164.3" r="5.95" fill="#ff5500"/>
<circle cx="411" cy="185" r="5.95" fill="#ff4500"/>
<circle cx="405.3" cy="181" r="5.95" fill="#ff5500"/>
<rect x="402.10" y="186.80" width="10.6" height="10.6" fill="#ff2800"/>
<rect x="446.00" y="163.30" width="10.6" height="10.6" fill="#ff3000"/>
<rect x="486.40" y="162.40" width="10.6" height="10.6" fill="#ff4500"/>
<circle cx="368.5" cy="171" r="5.95" fill="#ff6a00"/>
<rect x="364.70" y="174.80" width="10.6" height="10.6" fill="#ff8000"/>
<rect x="358.50" y="170.50" width="10.6" height="10.6" fill="#ff7800"/>
<circle cx="398.1" cy="203.4" r="5.95" fill="#ff7800"/>
<rect x="385.30" y="205.70" width="10.6" height="10.6" fill="#ff1a00"/>
<rect x="385.50" y="201.00" width="10.6" height="10.6" fill="#ff1a00"/>
<rect x="365.00" y="205.50" width="10.6" height="10.6" fill="#ff4500"/>
<rect x="354.80" y="214.30" width="10.6" height="10.6" fill="#ff5000"/>
<circle cx="383.5" cy="235" r="5.95" fill="#ffff10"/>
<circle cx="386.7" cy="226.4" r="5.95" fill="#ff5500"/>
<circle cx="377.6" cy="225.5" r="5.95" fill="#ffff10"/>
<circle cx="385.8" cy="231.3" r="5.95" fill="#ff7800"/>
<rect x="355.00" y="236.50" width="10.6" height="10.6" fill="#ff4500"/>
<rect x="374.70" y="236.50" width="10.6" height="10.6" fill="#ff3c00"/>
<rect x="356.60" y="267.80" width="10.6" height="10.6" fill="#ff8000"/>
<rect x="371.80" y="275.50" width="10.6" height="10.6" fill="#ffa000"/>
<circle cx="427" cy="217.5" r="5.95" fill="#ff9000"/>
<circle cx="418.5" cy="221.5" r="5.95" fill="#ffc800"/>
<circle cx="425" cy="230" r="5.95" fill="#ff9800"/>
<rect x="426.70" y="229.20" width="10.6" height="10.6" fill="#ff3800"/>
<rect x="418.70" y="210.10" width="10.6" height="10.6" fill="#ff2000"/>
<rect x="426.60" y="220.50" width="10.6" height="10.6" fill="#ff5500"/>
</g>
<g id="legend">
<rect x="30.3" y="192" width="66.3" height="106.5" fill="#fff"/>
<rect x="43.2" y="195.3" width="19" height="95.3" fill="url(#cb)"/>
<text x="68.2" y="200.30" font-size="10" fill="#111">0.31</text>
<line x1="43.2" y1="196.60" x2="46.4" y2="196.60" stroke="#fff" stroke-width=".6"/>
<line x1="59" y1="196.60" x2="62.2" y2="196.60" stroke="#fff" stroke-width=".6"/>
<text x="68.2" y="219.15" font-size="10" fill="#111">0.29</text>
<line x1="43.2" y1="215.45" x2="46.4" y2="215.45" stroke="#fff" stroke-width=".6"/>
<line x1="59" y1="215.45" x2="62.2" y2="215.45" stroke="#fff" stroke-width=".6"/>
<text x="68.2" y="238.00" font-size="10" fill="#111">0.27</text>
<line x1="43.2" y1="234.30" x2="46.4" y2="234.30" stroke="#fff" stroke-width=".6"/>
<line x1="59" y1="234.30" x2="62.2" y2="234.30" stroke="#fff" stroke-width=".6"/>
<text x="68.2" y="256.85" font-size="10" fill="#111">0.25</text>
<line x1="43.2" y1="253.15" x2="46.4" y2="253.15" stroke="#fff" stroke-width=".6"/>
<line x1="59" y1="253.15" x2="62.2" y2="253.15" stroke="#fff" stroke-width=".6"/>
<text x="68.2" y="275.70" font-size="10" fill="#111">0.23</text>
<line x1="43.2" y1="272.00" x2="46.4" y2="272.00" stroke="#fff" stroke-width=".6"/>
<line x1="59" y1="272.00" x2="62.2" y2="272.00" stroke="#fff" stroke-width=".6"/>
<text x="68.2" y="294.55" font-size="10" fill="#111">0.21</text>
<circle cx="113.2" cy="258.8" r="7.6" fill="none" stroke="#111" stroke-width="1.5"/>
<rect x="105.6" y="274.9" width="15.5" height="14.3" fill="none" stroke="#111" stroke-width="1.5"/>
<text x="130.3" y="262.8" font-size="11.9" class="tm">Ancient populations</text>
<text x="130.3" y="289.2" font-size="11.9" class="tm">Modern populations</text>
</g>
<text x="0.8" y="30.6" font-size="12.2" class="tm">A</text>
<text x="0.5" y="327.4" font-size="12.2" class="tm">B</text>
<text x="279.6" y="53.8" font-size="12.1" class="tm"><tspan font-style="italic">f3</tspan> (Mbuti.DG; X, DSS_HE)</text>
<g id="inset">
<rect x="555.6" y="116.2" width="105.39999999999998" height="183.8" fill="#fff" stroke="#222" stroke-width="0.6"/>
<line x1="569.6" y1="116.2" x2="569.6" y2="300.0" stroke="#555" stroke-width="0.5" stroke-dasharray="0.7 1.6"/>
<line x1="569.6" y1="300.0" x2="569.6" y2="301.8" stroke="#222" stroke-width="0.5"/>
<text x="569.6" y="308" font-size="4.3" text-anchor="middle" font-weight="bold" fill="#333">0.29</text>
<line x1="593.3" y1="116.2" x2="593.3" y2="300.0" stroke="#555" stroke-width="0.5" stroke-dasharray="0.7 1.6"/>
<line x1="593.3" y1="300.0" x2="593.3" y2="301.8" stroke="#222" stroke-width="0.5"/>
<text x="593.3" y="308" font-size="4.3" text-anchor="middle" font-weight="bold" fill="#333">0.30</text>
<line x1="616.6" y1="116.2" x2="616.6" y2="300.0" stroke="#555" stroke-width="0.5" stroke-dasharray="0.7 1.6"/>
<line x1="616.6" y1="300.0" x2="616.6" y2="301.8" stroke="#222" stroke-width="0.5"/>
<text x="616.6" y="308" font-size="4.3" text-anchor="middle" font-weight="bold" fill="#333">0.31</text>
<line x1="640.4" y1="116.2" x2="640.4" y2="300.0" stroke="#555" stroke-width="0.5" stroke-dasharray="0.7 1.6"/>
<line x1="640.4" y1="300.0" x2="640.4" y2="301.8" stroke="#222" stroke-width="0.5"/>
<text x="640.4" y="308" font-size="4.3" text-anchor="middle" font-weight="bold" fill="#333">0.32</text>
<line x1="597.3" y1="125.25" x2="638.8" y2="125.25" stroke="#222" stroke-width="0.7"/>
<circle cx="618.2" cy="125.25" r="1.55" fill="#000"/>
<line x1="553.0" y1="125.25" x2="555.6" y2="125.25" stroke="#222" stroke-width="0.5"/>
<text x="552.0" y="126.85" font-size="5.05" text-anchor="end" fill="#111" stroke="#111" stroke-width=".12">Mien.DG</text>
<line x1="595.1" y1="134.01" x2="639" y2="134.01" stroke="#8a8a8a" stroke-width="1.2"/>
<circle cx="617.3" cy="134.01" r="1.55" fill="#000"/>
<line x1="553.0" y1="134.01" x2="555.6" y2="134.01" stroke="#222" stroke-width="0.5"/>
<text x="552.0" y="135.61" font-size="5.05" text-anchor="end" fill="#111" stroke="#111" stroke-width=".12">Tujia.DG</text>
<line x1="595.1" y1="142.77" x2="638.4" y2="142.77" stroke="#8a8a8a" stroke-width="1.2"/>
<circle cx="616.8" cy="142.77" r="1.55" fill="#000"/>
<line x1="553.0" y1="142.77" x2="555.6" y2="142.77" stroke="#222" stroke-width="0.5"/>
<text x="552.0" y="144.37" font-size="5.05" text-anchor="end" fill="#111" stroke="#111" stroke-width=".12">She.DG</text>
<line x1="591.1" y1="151.53" x2="641.2" y2="151.53" stroke="#222" stroke-width="0.7"/>
<circle cx="616.4" cy="151.53" r="1.55" fill="#000"/>
<line x1="553.0" y1="151.53" x2="555.6" y2="151.53" stroke="#222" stroke-width="0.5"/>
<text x="552.0" y="153.13" font-size="5.05" text-anchor="end" fill="#111" stroke="#111" stroke-width=".12">Miaozigou_MN</text>
<line x1="595.1" y1="160.29" x2="636.8" y2="160.29" stroke="#8a8a8a" stroke-width="1.2"/>
<circle cx="616" cy="160.29" r="1.55" fill="#000"/>
<line x1="553.0" y1="160.29" x2="555.6" y2="160.29" stroke="#222" stroke-width="0.5"/>
<text x="552.0" y="161.89" font-size="5.05" text-anchor="end" fill="#111" stroke="#111" stroke-width=".12">Han.DG</text>
<line x1="592.9" y1="169.05" x2="634.6" y2="169.05" stroke="#8a8a8a" stroke-width="1.2"/>
<circle cx="613.7" cy="169.05" r="1.55" fill="#000"/>
<line x1="553.0" y1="169.05" x2="555.6" y2="169.05" stroke="#222" stroke-width="0.5"/>
<text x="552.0" y="170.65" font-size="5.05" text-anchor="end" fill="#111" stroke="#111" stroke-width=".12">Ami.DG</text>
<line x1="590.2" y1="177.81" x2="635.7" y2="177.81" stroke="#222" stroke-width="0.7"/>
<circle cx="613.1" cy="177.81" r="1.55" fill="#000"/>
<line x1="553.0" y1="177.81" x2="555.6" y2="177.81" stroke="#222" stroke-width="0.5"/>
<text x="552.0" y="179.41" font-size="5.05" text-anchor="end" fill="#111" stroke="#111" stroke-width=".12">Taiwan_Gongguan</text>
<line x1="591.8" y1="186.57" x2="633.9" y2="186.57" stroke="#222" stroke-width="0.7"/>
<circle cx="612.6" cy="186.57" r="1.55" fill="#000"/>
<line x1="553.0" y1="186.57" x2="555.6" y2="186.57" stroke="#222" stroke-width="0.5"/>
<text x="552.0" y="188.17" font-size="5.05" text-anchor="end" fill="#111" stroke="#111" stroke-width=".12">Korean.DG</text>
<line x1="591.1" y1="195.33" x2="632.8" y2="195.33" stroke="#222" stroke-width="0.7"/>
<circle cx="612.2" cy="195.33" r="1.55" fill="#000"/>
<line x1="553.0" y1="195.33" x2="555.6" y2="195.33" stroke="#222" stroke-width="0.5"/>
<text x="552.0" y="196.93" font-size="5.05" text-anchor="end" fill="#111" stroke="#111" stroke-width=".12">YR_LN</text>
<line x1="591.3" y1="204.09" x2="632.4" y2="204.09" stroke="#222" stroke-width="0.7"/>
<circle cx="612" cy="204.09" r="1.55" fill="#000"/>
<line x1="553.0" y1="204.09" x2="555.6" y2="204.09" stroke="#222" stroke-width="0.5"/>
<text x="552.0" y="205.69" font-size="5.05" text-anchor="end" fill="#111" stroke="#111" stroke-width=".12">YR_LBIA</text>
<line x1="590" y1="212.85" x2="631.5" y2="212.85" stroke="#8a8a8a" stroke-width="1.2"/>
<circle cx="611.2" cy="212.85" r="1.55" fill="#000"/>
<line x1="553.0" y1="212.85" x2="555.6" y2="212.85" stroke="#222" stroke-width="0.5"/>
<text x="552.0" y="214.45" font-size="5.05" text-anchor="end" fill="#111" stroke="#111" stroke-width=".12">Upper_YR_IA</text>
<line x1="589.1" y1="221.61" x2="631.1" y2="221.61" stroke="#222" stroke-width="0.7"/>
<circle cx="610.2" cy="221.61" r="1.55" fill="#000"/>
<line x1="553.0" y1="221.61" x2="555.6" y2="221.61" stroke="#222" stroke-width="0.5"/>
<text x="552.0" y="223.21" font-size="5.05" text-anchor="end" fill="#111" stroke="#111" stroke-width=".12">Kinh.DG</text>
<line x1="589.1" y1="230.37" x2="630.6" y2="230.37" stroke="#222" stroke-width="0.7"/>
<circle cx="610" cy="230.37" r="1.55" fill="#000"/>
<line x1="553.0" y1="230.37" x2="555.6" y2="230.37" stroke="#222" stroke-width="0.5"/>
<text x="552.0" y="231.97" font-size="5.05" text-anchor="end" fill="#111" stroke="#111" stroke-width=".12">Shimao_LN</text>
<line x1="589.1" y1="239.13" x2="630.3" y2="239.13" stroke="#8a8a8a" stroke-width="1.2"/>
<circle cx="609.7" cy="239.13" r="1.55" fill="#000"/>
<line x1="553.0" y1="239.13" x2="555.6" y2="239.13" stroke="#222" stroke-width="0.5"/>
<text x="552.0" y="240.73" font-size="5.05" text-anchor="end" fill="#111" stroke="#111" stroke-width=".12">Dai.DG</text>
<line x1="587.9" y1="247.89" x2="630.3" y2="247.89" stroke="#222" stroke-width="0.7"/>
<circle cx="609.5" cy="247.89" r="1.55" fill="#000"/>
<line x1="553.0" y1="247.89" x2="555.6" y2="247.89" stroke="#222" stroke-width="0.5"/>
<text x="552.0" y="249.49" font-size="5.05" text-anchor="end" fill="#111" stroke="#111" stroke-width=".12">WLR_LN</text>
<line x1="587.9" y1="256.65" x2="629.8" y2="256.65" stroke="#8a8a8a" stroke-width="1.2"/>
<circle cx="609.2" cy="256.65" r="1.55" fill="#000"/>
<line x1="553.0" y1="256.65" x2="555.6" y2="256.65" stroke="#222" stroke-width="0.5"/>
<text x="552.0" y="258.25" font-size="5.05" text-anchor="end" fill="#111" stroke="#111" stroke-width=".12">Yi.DG</text>
<line x1="587.9" y1="265.41" x2="629.8" y2="265.41" stroke="#222" stroke-width="0.7"/>
<circle cx="609" cy="265.41" r="1.55" fill="#000"/>
<line x1="553.0" y1="265.41" x2="555.6" y2="265.41" stroke="#222" stroke-width="0.5"/>
<text x="552.0" y="267.01" font-size="5.05" text-anchor="end" fill="#111" stroke="#111" stroke-width=".12">Japanese.DG</text>
<line x1="587.9" y1="274.17" x2="629.3" y2="274.17" stroke="#222" stroke-width="0.7"/>
<circle cx="608.7" cy="274.17" r="1.55" fill="#000"/>
<line x1="553.0" y1="274.17" x2="555.6" y2="274.17" stroke="#222" stroke-width="0.5"/>
<text x="552.0" y="275.77" font-size="5.05" text-anchor="end" fill="#111" stroke="#111" stroke-width=".12">YR_MN</text>
<line x1="587.6" y1="282.93" x2="628.1" y2="282.93" stroke="#8a8a8a" stroke-width="1.2"/>
<circle cx="608" cy="282.93" r="1.55" fill="#000"/>
<line x1="553.0" y1="282.93" x2="555.6" y2="282.93" stroke="#222" stroke-width="0.5"/>
<text x="552.0" y="284.53" font-size="5.05" text-anchor="end" fill="#111" stroke="#111" stroke-width=".12">Taiwan_Hanben</text>
<line x1="587.6" y1="291.69" x2="628.6" y2="291.69" stroke="#8a8a8a" stroke-width="1.2"/>
<circle cx="608" cy="291.69" r="1.55" fill="#000"/>
<line x1="553.0" y1="291.69" x2="555.6" y2="291.69" stroke="#222" stroke-width="0.5"/>
<text x="552.0" y="293.29" font-size="5.05" text-anchor="end" fill="#111" stroke="#111" stroke-width=".12">Upper_YR_LN</text>
<text x="608.4" y="314.2" font-size="4.9" text-anchor="middle" font-weight="bold" fill="#333">f3(Mbuti.DG, X; DSS_HE)</text>
</g>
<g id="bars">
<rect x="20.80" y="320.3" width="4.93" height="90.50" fill="#fdc96e"/>
<rect x="20.80" y="365.30" width="4.93" height="45.50" fill="#3fa08f" stroke="#1a1200" stroke-opacity=".5" stroke-width=".3"/>
<rect x="20.80" y="320.3" width="4.93" height="90.50" fill="none" stroke="#2a2000" stroke-opacity=".85" stroke-width=".45"/>
<rect x="25.73" y="320.3" width="4.93" height="90.50" fill="#fdc96e"/>
<rect x="25.73" y="369.50" width="4.93" height="41.30" fill="#3fa08f" stroke="#1a1200" stroke-opacity=".5" stroke-width=".3"/>
<rect x="25.73" y="320.3" width="4.93" height="90.50" fill="none" stroke="#2a2000" stroke-opacity=".85" stroke-width=".45"/>
<rect x="30.66" y="320.3" width="4.93" height="90.50" fill="#fdc96e"/>
<rect x="30.66" y="373.30" width="4.93" height="37.50" fill="#3fa08f" stroke="#1a1200" stroke-opacity=".5" stroke-width=".3"/>
<rect x="30.66" y="320.3" width="4.93" height="90.50" fill="none" stroke="#2a2000" stroke-opacity=".85" stroke-width=".45"/>
<rect x="35.59" y="320.3" width="4.93" height="90.50" fill="#fdc96e"/>
<rect x="35.59" y="374.20" width="4.93" height="2.50" fill="#2a6fd0" stroke="#1a1200" stroke-opacity=".5" stroke-width=".3"/>
<rect x="35.59" y="376.70" width="4.93" height="34.10" fill="#3fa08f" stroke="#1a1200" stroke-opacity=".5" stroke-width=".3"/>
<rect x="35.59" y="320.3" width="4.93" height="90.50" fill="none" stroke="#2a2000" stroke-opacity=".85" stroke-width=".45"/>
<rect x="40.51" y="320.3" width="4.93" height="90.50" fill="#fdc96e"/>
<rect x="40.51" y="320.30" width="4.93" height="3.10" fill="#33a02c" stroke="#1a1200" stroke-opacity=".5" stroke-width=".3"/>
<rect x="40.51" y="378.30" width="4.93" height="32.50" fill="#3fa08f" stroke="#1a1200" stroke-opacity=".5" stroke-width=".3"/>
<rect x="40.51" y="320.3" width="4.93" height="90.50" fill="none" stroke="#2a2000" stroke-opacity=".85" stroke-width=".45"/>
<rect x="45.44" y="320.3" width="4.93" height="90.50" fill="#fdc96e"/>
<rect x="45.44" y="382.00" width="4.93" height="28.80" fill="#3fa08f" stroke="#1a1200" stroke-opacity=".5" stroke-width=".3"/>
<rect x="45.44" y="320.3" width="4.93" height="90.50" fill="none" stroke="#2a2000" stroke-opacity=".85" stroke-width=".45"/>
<rect x="50.37" y="320.3" width="4.93" height="90.50" fill="#fdc96e"/>
<rect x="50.37" y="320.30" width="4.93" height="3.10" fill="#33a02c" stroke="#1a1200" stroke-opacity=".5" stroke-width=".3"/>
<rect x="50.37" y="388.00" width="4.93" height="2.60" fill="#2a6fd0" stroke="#1a1200" stroke-opacity=".5" stroke-width=".3"/>
<rect x="50.37" y="390.60" width="4.93" height="20.20" fill="#3fa08f" stroke="#1a1200" stroke-opacity=".5" stroke-width=".3"/>
<rect x="50.37" y="320.3" width="4.93" height="90.50" fill="none" stroke="#2a2000" stroke-opacity=".85" stroke-width=".45"/>
<rect x="64.20" y="320.3" width="5.00" height="90.50" fill="#fdc96e"/>
<rect x="64.20" y="320.30" width="5.00" height="2.00" fill="#33a02c" stroke="#1a1200" stroke-opacity=".5" stroke-width=".3"/>
<rect x="64.20" y="373.80" width="5.00" height="2.90" fill="#2a6fd0" stroke="#1a1200" stroke-opacity=".5" stroke-width=".3"/>
<rect x="64.20" y="376.70" width="5.00" height="3.00" fill="#f08a7a" stroke="#1a1200" stroke-opacity=".5" stroke-width=".3"/>
<rect x="64.20" y="379.70" width="5.00" height="20.60" fill="#3fa08f" stroke="#1a1200" stroke-opacity=".5" stroke-width=".3"/>
<rect x="64.20" y="400.30" width="5.00" height="10.50" fill="#6fd0f5" stroke="#1a1200" stroke-opacity=".5" stroke-width=".3"/>
<rect x="64.20" y="320.3" width="5.00" height="90.50" fill="none" stroke="#2a2000" stroke-opacity=".85" stroke-width=".45"/>
<rect x="78.40" y="320.3" width="4.90" height="90.50" fill="#fdc96e"/>
<rect x="78.40" y="392.80" width="4.90" height="1.70" fill="#1a3a6a" stroke="#1a1200" stroke-opacity=".5" stroke-width=".3"/>
<rect x="78.40" y="394.50" width="4.90" height="3.70" fill="#10e010" stroke="#1a1200" stroke-opacity=".5" stroke-width=".3"/>
<rect x="78.40" y="398.50" width="4.90" height="2.50" fill="#f08a7a" stroke="#1a1200" stroke-opacity=".5" stroke-width=".3"/>
<rect x="78.40" y="401.00" width="4.90" height="4.50" fill="#3fa08f" stroke="#1a1200" stroke-opacity=".5" stroke-width=".3"/>
<rect x="78.40" y="405.50" width="4.90" height="5.30" fill="#6fd0f5" stroke="#1a1200" stroke-opacity=".5" stroke-width=".3"/>
<rect x="78.40" y="320.3" width="4.90" height="90.50" fill="none" stroke="#2a2000" stroke-opacity=".85" stroke-width=".45"/>
<rect x="93.10" y="320.3" width="5.10" height="90.50" fill="#fdc96e"/>
<rect x="93.10" y="394.20" width="5.10" height="5.30" fill="#10e010" stroke="#1a1200" stroke-opacity=".5" stroke-width=".3"/>
<rect x="93.10" y="399.50" width="5.10" height="1.00" fill="#b07a3a" stroke="#1a1200" stroke-opacity=".5" stroke-width=".3"/>
<rect x="93.10" y="400.50" width="5.10" height="3.50" fill="#3fa08f" stroke="#1a1200" stroke-opacity=".5" stroke-width=".3"/>
<rect x="93.10" y="404.00" width="5.10" height="6.80" fill="#6fd0f5" stroke="#1a1200" stroke-opacity=".5" stroke-width=".3"/>
<rect x="93.10" y="320.3" width="5.10" height="90.50" fill="none" stroke="#2a2000" stroke-opacity=".85" stroke-width=".45"/>
<rect x="107.50" y="320.3" width="4.89" height="90.50" fill="#fdc96e"/>
<rect x="107.50" y="405.30" width="4.89" height="5.50" fill="#2a6fd0" stroke="#1a1200" stroke-opacity=".5" stroke-width=".3"/>
<rect x="107.50" y="320.3" width="4.89" height="90.50" fill="none" stroke="#2a2000" stroke-opacity=".85" stroke-width=".45"/>
<rect x="112.39" y="320.3" width="4.89" height="90.50" fill="#fdc96e"/>
<rect x="112.39" y="406.70" width="4.89" height="2.50" fill="#b07a3a" stroke="#1a1200" stroke-opacity=".5" stroke-width=".3"/>
<rect x="112.39" y="409.20" width="4.89" height="1.60" fill="#f08a7a" stroke="#1a1200" stroke-opacity=".5" stroke-width=".3"/>
<rect x="112.39" y="320.3" width="4.89" height="90.50" fill="none" stroke="#2a2000" stroke-opacity=".85" stroke-width=".45"/>
<rect x="117.27" y="320.3" width="4.89" height="90.50" fill="#fdc96e"/>
<rect x="117.27" y="407.50" width="4.89" height="3.30" fill="#3fa08f" stroke="#1a1200" stroke-opacity=".5" stroke-width=".3"/>
<rect x="117.27" y="320.3" width="4.89" height="90.50" fill="none" stroke="#2a2000" stroke-opacity=".85" stroke-width=".45"/>
<rect x="122.16" y="320.3" width="4.89" height="90.50" fill="#fdc96e"/>
<rect x="122.16" y="396.70" width="4.89" height="6.30" fill="#10e010" stroke="#1a1200" stroke-opacity=".5" stroke-width=".3"/>
<rect x="122.16" y="403.00" width="4.89" height="3.30" fill="#f08a7a" stroke="#1a1200" stroke-opacity=".5" stroke-width=".3"/>
<rect x="122.16" y="406.30" width="4.89" height="4.50" fill="#6fd0f5" stroke="#1a1200" stroke-opacity=".5" stroke-width=".3"/>
<rect x="122.16" y="320.3" width="4.89" height="90.50" fill="none" stroke="#2a2000" stroke-opacity=".85" stroke-width=".45"/>
<rect x="127.04" y="320.3" width="4.89" height="90.50" fill="#fdc96e"/>
<rect x="127.04" y="407.50" width="4.89" height="3.30" fill="#2a6fd0" stroke="#1a1200" stroke-opacity=".5" stroke-width=".3"/>
<rect x="127.04" y="320.3" width="4.89" height="90.50" fill="none" stroke="#2a2000" stroke-opacity=".85" stroke-width=".45"/>
<rect x="131.93" y="320.3" width="4.89" height="90.50" fill="#fdc96e"/>
<rect x="131.93" y="409.70" width="4.89" height="1.10" fill="#1a3a6a" stroke="#1a1200" stroke-opacity=".5" stroke-width=".3"/>
<rect x="131.93" y="320.3" width="4.89" height="90.50" fill="none" stroke="#2a2000" stroke-opacity=".85" stroke-width=".45"/>
<rect x="136.81" y="320.3" width="4.89" height="90.50" fill="#fdc96e"/>
<rect x="136.81" y="404.20" width="4.89" height="3.30" fill="#2a6fd0" stroke="#1a1200" stroke-opacity=".5" stroke-width=".3"/>
<rect x="136.81" y="407.50" width="4.89" height="3.30" fill="#f08a7a" stroke="#1a1200" stroke-opacity=".5" stroke-width=".3"/>
<rect x="136.81" y="320.3" width="4.89" height="90.50" fill="none" stroke="#2a2000" stroke-opacity=".85" stroke-width=".45"/>
<rect x="146.30" y="320.3" width="5.00" height="90.50" fill="#fdc96e"/>
<rect x="146.30" y="320.3" width="5.00" height="90.50" fill="none" stroke="#2a2000" stroke-opacity=".85" stroke-width=".45"/>
<rect x="151.30" y="320.3" width="5.00" height="90.50" fill="#fdc96e"/>
<rect x="151.30" y="409.70" width="5.00" height="1.10" fill="#b07a3a" stroke="#1a1200" stroke-opacity=".5" stroke-width=".3"/>
<rect x="151.30" y="320.3" width="5.00" height="90.50" fill="none" stroke="#2a2000" stroke-opacity=".85" stroke-width=".45"/>
<rect x="156.30" y="320.3" width="5.00" height="90.50" fill="#fdc96e"/>
<rect x="156.30" y="406.30" width="5.00" height="4.50" fill="#2a6fd0" stroke="#1a1200" stroke-opacity=".5" stroke-width=".3"/>
<rect x="156.30" y="320.3" width="5.00" height="90.50" fill="none" stroke="#2a2000" stroke-opacity=".85" stroke-width=".45"/>
<rect x="170.50" y="320.3" width="5.00" height="90.50" fill="#fdc96e"/>
<rect x="170.50" y="320.3" width="5.00" height="90.50" fill="none" stroke="#2a2000" stroke-opacity=".85" stroke-width=".45"/>
<rect x="175.50" y="320.3" width="5.00" height="90.50" fill="#fdc96e"/>
<rect x="175.50" y="408.00" width="5.00" height="1.20" fill="#1a3a6a" stroke="#1a1200" stroke-opacity=".5" stroke-width=".3"/>
<rect x="175.50" y="409.20" width="5.00" height="1.60" fill="#b07a3a" stroke="#1a1200" stroke-opacity=".5" stroke-width=".3"/>
<rect x="175.50" y="320.3" width="5.00" height="90.50" fill="none" stroke="#2a2000" stroke-opacity=".85" stroke-width=".45"/>
<rect x="189.70" y="320.3" width="4.87" height="90.50" fill="#fdc96e"/>
<rect x="189.70" y="320.3" width="4.87" height="90.50" fill="none" stroke="#2a2000" stroke-opacity=".85" stroke-width=".45"/>
<rect x="194.57" y="320.3" width="4.87" height="90.50" fill="#fdc96e"/>
<rect x="194.57" y="407.00" width="4.87" height="3.80" fill="#b07a3a" stroke="#1a1200" stroke-opacity=".5" stroke-width=".3"/>
<rect x="194.57" y="320.3" width="4.87" height="90.50" fill="none" stroke="#2a2000" stroke-opacity=".85" stroke-width=".45"/>
<rect x="199.44" y="320.3" width="4.87" height="90.50" fill="#fdc96e"/>
<rect x="199.44" y="406.70" width="4.87" height="4.10" fill="#b07a3a" stroke="#1a1200" stroke-opacity=".5" stroke-width=".3"/>
<rect x="199.44" y="320.3" width="4.87" height="90.50" fill="none" stroke="#2a2000" stroke-opacity=".85" stroke-width=".45"/>
<rect x="204.31" y="320.3" width="4.87" height="90.50" fill="#fdc96e"/>
<rect x="204.31" y="405.00" width="4.87" height="3.30" fill="#2a6fd0" stroke="#1a1200" stroke-opacity=".5" stroke-width=".3"/>
<rect x="204.31" y="408.30" width="4.87" height="2.50" fill="#f08a7a" stroke="#1a1200" stroke-opacity=".5" stroke-width=".3"/>
<rect x="204.31" y="320.3" width="4.87" height="90.50" fill="none" stroke="#2a2000" stroke-opacity=".85" stroke-width=".45"/>
<rect x="209.19" y="320.3" width="4.87" height="90.50" fill="#fdc96e"/>
<rect x="209.19" y="402.00" width="4.87" height="7.20" fill="#f08a7a" stroke="#1a1200" stroke-opacity=".5" stroke-width=".3"/>
<rect x="209.19" y="409.20" width="4.87" height="1.60" fill="#6fd0f5" stroke="#1a1200" stroke-opacity=".5" stroke-width=".3"/>
<rect x="209.19" y="320.3" width="4.87" height="90.50" fill="none" stroke="#2a2000" stroke-opacity=".85" stroke-width=".45"/>
<rect x="214.06" y="320.3" width="4.87" height="90.50" fill="#fdc96e"/>
<rect x="214.06" y="405.00" width="4.87" height="5.80" fill="#3fa08f" stroke="#1a1200" stroke-opacity=".5" stroke-width=".3"/>
<rect x="214.06" y="320.3" width="4.87" height="90.50" fill="none" stroke="#2a2000" stroke-opacity=".85" stroke-width=".45"/>
<rect x="218.93" y="320.3" width="4.87" height="90.50" fill="#fdc96e"/>
<rect x="218.93" y="401.30" width="4.87" height="2.90" fill="#2a6fd0" stroke="#1a1200" stroke-opacity=".5" stroke-width=".3"/>
<rect x="218.93" y="404.20" width="4.87" height="3.30" fill="#b07a3a" stroke="#1a1200" stroke-opacity=".5" stroke-width=".3"/>
<rect x="218.93" y="407.50" width="4.87" height="3.30" fill="#f08a7a" stroke="#1a1200" stroke-opacity=".5" stroke-width=".3"/>
<rect x="218.93" y="320.3" width="4.87" height="90.50" fill="none" stroke="#2a2000" stroke-opacity=".85" stroke-width=".45"/>
<rect x="233.30" y="320.3" width="5.30" height="90.50" fill="#fdc96e"/>
<rect x="233.30" y="410.00" width="5.30" height="0.80" fill="#1a3a6a" stroke="#1a1200" stroke-opacity=".5" stroke-width=".3"/>
<rect x="233.30" y="320.3" width="5.30" height="90.50" fill="none" stroke="#2a2000" stroke-opacity=".85" stroke-width=".45"/>
<rect x="247.50" y="320.3" width="5.00" height="90.50" fill="#fdc96e"/>
<rect x="247.50" y="410.00" width="5.00" height="0.80" fill="#1a3a6a" stroke="#1a1200" stroke-opacity=".5" stroke-width=".3"/>
<rect x="247.50" y="320.3" width="5.00" height="90.50" fill="none" stroke="#2a2000" stroke-opacity=".85" stroke-width=".45"/>
<rect x="252.50" y="320.3" width="5.00" height="90.50" fill="#fdc96e"/>
<rect x="252.50" y="407.50" width="5.00" height="3.30" fill="#f08a7a" stroke="#1a1200" stroke-opacity=".5" stroke-width=".3"/>
<rect x="252.50" y="320.3" width="5.00" height="90.50" fill="none" stroke="#2a2000" stroke-opacity=".85" stroke-width=".45"/>
<rect x="257.50" y="320.3" width="5.00" height="90.50" fill="#fdc96e"/>
<rect x="257.50" y="406.70" width="5.00" height="1.30" fill="#b07a3a" stroke="#1a1200" stroke-opacity=".5" stroke-width=".3"/>
<rect x="257.50" y="408.00" width="5.00" height="2.80" fill="#f08a7a" stroke="#1a1200" stroke-opacity=".5" stroke-width=".3"/>
<rect x="257.50" y="320.3" width="5.00" height="90.50" fill="none" stroke="#2a2000" stroke-opacity=".85" stroke-width=".45"/>
<rect x="262.50" y="320.3" width="5.00" height="90.50" fill="#fdc96e"/>
<rect x="262.50" y="400.00" width="5.00" height="3.70" fill="#b07a3a" stroke="#1a1200" stroke-opacity=".5" stroke-width=".3"/>
<rect x="262.50" y="403.70" width="5.00" height="7.10" fill="#10e010" stroke="#1a1200" stroke-opacity=".5" stroke-width=".3"/>
<rect x="262.50" y="320.3" width="5.00" height="90.50" fill="none" stroke="#2a2000" stroke-opacity=".85" stroke-width=".45"/>
<rect x="277.10" y="320.3" width="4.90" height="90.50" fill="#fdc96e"/>
<rect x="277.10" y="403.00" width="4.90" height="2.30" fill="#2a6fd0" stroke="#1a1200" stroke-opacity=".5" stroke-width=".3"/>
<rect x="277.10" y="405.30" width="4.90" height="3.90" fill="#b07a3a" stroke="#1a1200" stroke-opacity=".5" stroke-width=".3"/>
<rect x="277.10" y="409.20" width="4.90" height="1.60" fill="#6fd0f5" stroke="#1a1200" stroke-opacity=".5" stroke-width=".3"/>
<rect x="277.10" y="320.3" width="4.90" height="90.50" fill="none" stroke="#2a2000" stroke-opacity=".85" stroke-width=".45"/>
<rect x="291.30" y="320.3" width="4.86" height="90.50" fill="#fdc96e"/>
<rect x="291.30" y="403.00" width="4.86" height="5.00" fill="#f08a7a" stroke="#1a1200" stroke-opacity=".5" stroke-width=".3"/>
<rect x="291.30" y="408.00" width="4.86" height="2.80" fill="#3fa08f" stroke="#1a1200" stroke-opacity=".5" stroke-width=".3"/>
<rect x="291.30" y="320.3" width="4.86" height="90.50" fill="none" stroke="#2a2000" stroke-opacity=".85" stroke-width=".45"/>
<rect x="296.16" y="320.3" width="4.86" height="90.50" fill="#fdc96e"/>
<rect x="296.16" y="402.50" width="4.86" height="4.50" fill="#f08a7a" stroke="#1a1200" stroke-opacity=".5" stroke-width=".3"/>
<rect x="296.16" y="407.00" width="4.86" height="3.80" fill="#3fa08f" stroke="#1a1200" stroke-opacity=".5" stroke-width=".3"/>
<rect x="296.16" y="320.3" width="4.86" height="90.50" fill="none" stroke="#2a2000" stroke-opacity=".85" stroke-width=".45"/>
<rect x="301.01" y="320.3" width="4.86" height="90.50" fill="#fdc96e"/>
<rect x="301.01" y="398.00" width="4.86" height="8.70" fill="#3fa08f" stroke="#1a1200" stroke-opacity=".5" stroke-width=".3"/>
<rect x="301.01" y="406.70" width="4.86" height="4.10" fill="#6fd0f5" stroke="#1a1200" stroke-opacity=".5" stroke-width=".3"/>
<rect x="301.01" y="320.3" width="4.86" height="90.50" fill="none" stroke="#2a2000" stroke-opacity=".85" stroke-width=".45"/>
<rect x="305.87" y="320.3" width="4.86" height="90.50" fill="#fdc96e"/>
<rect x="305.87" y="394.20" width="4.86" height="3.30" fill="#f08a7a" stroke="#1a1200" stroke-opacity=".5" stroke-width=".3"/>
<rect x="305.87" y="397.50" width="4.86" height="13.30" fill="#3fa08f" stroke="#1a1200" stroke-opacity=".5" stroke-width=".3"/>
<rect x="305.87" y="320.3" width="4.86" height="90.50" fill="none" stroke="#2a2000" stroke-opacity=".85" stroke-width=".45"/>
<rect x="310.73" y="320.3" width="4.86" height="90.50" fill="#fdc96e"/>
<rect x="310.73" y="396.30" width="4.86" height="1.70" fill="#f08a7a" stroke="#1a1200" stroke-opacity=".5" stroke-width=".3"/>
<rect x="310.73" y="398.00" width="4.86" height="12.80" fill="#3fa08f" stroke="#1a1200" stroke-opacity=".5" stroke-width=".3"/>
<rect x="310.73" y="320.3" width="4.86" height="90.50" fill="none" stroke="#2a2000" stroke-opacity=".85" stroke-width=".45"/>
<rect x="315.59" y="320.3" width="4.86" height="90.50" fill="#fdc96e"/>
<rect x="315.59" y="393.70" width="4.86" height="3.80" fill="#10e010" stroke="#1a1200" stroke-opacity=".5" stroke-width=".3"/>
<rect x="315.59" y="397.50" width="4.86" height="5.50" fill="#f08a7a" stroke="#1a1200" stroke-opacity=".5" stroke-width=".3"/>
<rect x="315.59" y="403.00" width="4.86" height="7.80" fill="#3fa08f" stroke="#1a1200" stroke-opacity=".5" stroke-width=".3"/>
<rect x="315.59" y="320.3" width="4.86" height="90.50" fill="none" stroke="#2a2000" stroke-opacity=".85" stroke-width=".45"/>
<rect x="320.44" y="320.3" width="4.86" height="90.50" fill="#fdc96e"/>
<rect x="320.44" y="391.70" width="4.86" height="1.60" fill="#2a6fd0" stroke="#1a1200" stroke-opacity=".5" stroke-width=".3"/>
<rect x="320.44" y="393.30" width="4.86" height="1.70" fill="#b07a3a" stroke="#1a1200" stroke-opacity=".5" stroke-width=".3"/>
<rect x="320.44" y="395.00" width="4.86" height="6.30" fill="#f08a7a" stroke="#1a1200" stroke-opacity=".5" stroke-width=".3"/>
<rect x="320.44" y="401.30" width="4.86" height="9.50" fill="#3fa08f" stroke="#1a1200" stroke-opacity=".5" stroke-width=".3"/>
<rect x="320.44" y="320.3" width="4.86" height="90.50" fill="none" stroke="#2a2000" stroke-opacity=".85" stroke-width=".45"/>
<rect x="334.70" y="320.3" width="5.00" height="90.50" fill="#fdc96e"/>
<rect x="334.70" y="380.00" width="5.00" height="3.80" fill="#f08a7a" stroke="#1a1200" stroke-opacity=".5" stroke-width=".3"/>
<rect x="334.70" y="383.80" width="5.00" height="25.40" fill="#3fa08f" stroke="#1a1200" stroke-opacity=".5" stroke-width=".3"/>
<rect x="334.70" y="409.20" width="5.00" height="1.60" fill="#6fd0f5" stroke="#1a1200" stroke-opacity=".5" stroke-width=".3"/>
<rect x="334.70" y="320.3" width="5.00" height="90.50" fill="none" stroke="#2a2000" stroke-opacity=".85" stroke-width=".45"/>
<rect x="349.20" y="320.3" width="4.88" height="90.50" fill="#fdc96e"/>
<rect x="349.20" y="320.30" width="4.88" height="3.70" fill="#33a02c" stroke="#1a1200" stroke-opacity=".5" stroke-width=".3"/>
<rect x="349.20" y="375.00" width="4.88" height="35.80" fill="#3fa08f" stroke="#1a1200" stroke-opacity=".5" stroke-width=".3"/>
<rect x="349.20" y="320.3" width="4.88" height="90.50" fill="none" stroke="#2a2000" stroke-opacity=".85" stroke-width=".45"/>
<rect x="354.07" y="320.3" width="4.88" height="90.50" fill="#fdc96e"/>
<rect x="354.07" y="364.00" width="4.88" height="46.80" fill="#3fa08f" stroke="#1a1200" stroke-opacity=".5" stroke-width=".3"/>
<rect x="354.07" y="320.3" width="4.88" height="90.50" fill="none" stroke="#2a2000" stroke-opacity=".85" stroke-width=".45"/>
<rect x="358.95" y="320.3" width="4.88" height="90.50" fill="#fdc96e"/>
<rect x="358.95" y="361.20" width="4.88" height="1.10" fill="#33a02c" stroke="#1a1200" stroke-opacity=".5" stroke-width=".3"/>
<rect x="358.95" y="362.30" width="4.88" height="48.50" fill="#3fa08f" stroke="#1a1200" stroke-opacity=".5" stroke-width=".3"/>
<rect x="358.95" y="320.3" width="4.88" height="90.50" fill="none" stroke="#2a2000" stroke-opacity=".85" stroke-width=".45"/>
<rect x="363.82" y="320.3" width="4.88" height="90.50" fill="#fdc96e"/>
<rect x="363.82" y="357.50" width="4.88" height="53.30" fill="#3fa08f" stroke="#1a1200" stroke-opacity=".5" stroke-width=".3"/>
<rect x="363.82" y="320.3" width="4.88" height="90.50" fill="none" stroke="#2a2000" stroke-opacity=".85" stroke-width=".45"/>
<rect x="373.00" y="320.3" width="5.10" height="90.50" fill="#fdc96e"/>
<rect x="373.00" y="327.30" width="5.10" height="4.40" fill="#b07a3a" stroke="#1a1200" stroke-opacity=".5" stroke-width=".3"/>
<rect x="373.00" y="331.70" width="5.10" height="79.10" fill="#3fa08f" stroke="#1a1200" stroke-opacity=".5" stroke-width=".3"/>
<rect x="373.00" y="320.3" width="5.10" height="90.50" fill="none" stroke="#2a2000" stroke-opacity=".85" stroke-width=".45"/>
<rect x="378.10" y="320.3" width="5.10" height="90.50" fill="#fdc96e"/>
<rect x="378.10" y="332.00" width="5.10" height="1.30" fill="#b07a3a" stroke="#1a1200" stroke-opacity=".5" stroke-width=".3"/>
<rect x="378.10" y="333.30" width="5.10" height="77.50" fill="#3fa08f" stroke="#1a1200" stroke-opacity=".5" stroke-width=".3"/>
<rect x="378.10" y="320.3" width="5.10" height="90.50" fill="none" stroke="#2a2000" stroke-opacity=".85" stroke-width=".45"/>
<rect x="383.20" y="320.3" width="5.10" height="90.50" fill="#fdc96e"/>
<rect x="383.20" y="337.00" width="5.10" height="1.30" fill="#1a3a6a" stroke="#1a1200" stroke-opacity=".5" stroke-width=".3"/>
<rect x="383.20" y="338.30" width="5.10" height="1.20" fill="#b07a3a" stroke="#1a1200" stroke-opacity=".5" stroke-width=".3"/>
<rect x="383.20" y="339.50" width="5.10" height="3.80" fill="#10e010" stroke="#1a1200" stroke-opacity=".5" stroke-width=".3"/>
<rect x="383.20" y="343.30" width="5.10" height="67.50" fill="#3fa08f" stroke="#1a1200" stroke-opacity=".5" stroke-width=".3"/>
<rect x="383.20" y="320.3" width="5.10" height="90.50" fill="none" stroke="#2a2000" stroke-opacity=".85" stroke-width=".45"/>
<rect x="392.50" y="320.3" width="5.00" height="90.50" fill="#fdc96e"/>
<rect x="392.50" y="357.00" width="5.00" height="53.80" fill="#3fa08f" stroke="#1a1200" stroke-opacity=".5" stroke-width=".3"/>
<rect x="392.50" y="320.3" width="5.00" height="90.50" fill="none" stroke="#2a2000" stroke-opacity=".85" stroke-width=".45"/>
<rect x="397.50" y="320.3" width="5.00" height="90.50" fill="#fdc96e"/>
<rect x="397.50" y="356.20" width="5.00" height="1.60" fill="#f08a7a" stroke="#1a1200" stroke-opacity=".5" stroke-width=".3"/>
<rect x="397.50" y="357.80" width="5.00" height="53.00" fill="#3fa08f" stroke="#1a1200" stroke-opacity=".5" stroke-width=".3"/>
<rect x="397.50" y="320.3" width="5.00" height="90.50" fill="none" stroke="#2a2000" stroke-opacity=".85" stroke-width=".45"/>
<rect x="402.50" y="320.3" width="5.00" height="90.50" fill="#fdc96e"/>
<rect x="402.50" y="355.00" width="5.00" height="2.00" fill="#33a02c" stroke="#1a1200" stroke-opacity=".5" stroke-width=".3"/>
<rect x="402.50" y="357.00" width="5.00" height="2.00" fill="#f08a7a" stroke="#1a1200" stroke-opacity=".5" stroke-width=".3"/>
<rect x="402.50" y="359.00" width="5.00" height="51.80" fill="#3fa08f" stroke="#1a1200" stroke-opacity=".5" stroke-width=".3"/>
<rect x="402.50" y="320.3" width="5.00" height="90.50" fill="none" stroke="#2a2000" stroke-opacity=".85" stroke-width=".45"/>
<rect x="412.00" y="320.3" width="4.90" height="90.50" fill="#fdc96e"/>
<rect x="412.00" y="346.20" width="4.90" height="2.50" fill="#b07a3a" stroke="#1a1200" stroke-opacity=".5" stroke-width=".3"/>
<rect x="412.00" y="348.70" width="4.90" height="62.10" fill="#3fa08f" stroke="#1a1200" stroke-opacity=".5" stroke-width=".3"/>
<rect x="412.00" y="320.3" width="4.90" height="90.50" fill="none" stroke="#2a2000" stroke-opacity=".85" stroke-width=".45"/>
<rect x="416.90" y="320.3" width="4.90" height="90.50" fill="#fdc96e"/>
<rect x="416.90" y="351.20" width="4.90" height="3.80" fill="#b07a3a" stroke="#1a1200" stroke-opacity=".5" stroke-width=".3"/>
<rect x="416.90" y="355.00" width="4.90" height="55.80" fill="#3fa08f" stroke="#1a1200" stroke-opacity=".5" stroke-width=".3"/>
<rect x="416.90" y="320.3" width="4.90" height="90.50" fill="none" stroke="#2a2000" stroke-opacity=".85" stroke-width=".45"/>
<rect x="421.80" y="320.3" width="4.90" height="90.50" fill="#fdc96e"/>
<rect x="421.80" y="320.30" width="4.90" height="1.70" fill="#2a6fd0" stroke="#1a1200" stroke-opacity=".5" stroke-width=".3"/>
<rect x="421.80" y="322.00" width="4.90" height="17.50" fill="#b07a3a" stroke="#1a1200" stroke-opacity=".5" stroke-width=".3"/>
<rect x="421.80" y="339.50" width="4.90" height="71.30" fill="#3fa08f" stroke="#1a1200" stroke-opacity=".5" stroke-width=".3"/>
<rect x="421.80" y="320.3" width="4.90" height="90.50" fill="none" stroke="#2a2000" stroke-opacity=".85" stroke-width=".45"/>
<rect x="431.30" y="320.3" width="4.89" height="90.50" fill="#fdc96e"/>
<rect x="431.30" y="343.20" width="4.89" height="67.60" fill="#3fa08f" stroke="#1a1200" stroke-opacity=".5" stroke-width=".3"/>
<rect x="431.30" y="320.3" width="4.89" height="90.50" fill="none" stroke="#2a2000" stroke-opacity=".85" stroke-width=".45"/>
<rect x="436.19" y="320.3" width="4.89" height="90.50" fill="#fdc96e"/>
<rect x="436.19" y="344.20" width="4.89" height="66.60" fill="#3fa08f" stroke="#1a1200" stroke-opacity=".5" stroke-width=".3"/>
<rect x="436.19" y="320.3" width="4.89" height="90.50" fill="none" stroke="#2a2000" stroke-opacity=".85" stroke-width=".45"/>
<rect x="441.07" y="320.3" width="4.89" height="90.50" fill="#fdc96e"/>
<rect x="441.07" y="345.00" width="4.89" height="65.80" fill="#3fa08f" stroke="#1a1200" stroke-opacity=".5" stroke-width=".3"/>
<rect x="441.07" y="320.3" width="4.89" height="90.50" fill="none" stroke="#2a2000" stroke-opacity=".85" stroke-width=".45"/>
<rect x="445.96" y="320.3" width="4.89" height="90.50" fill="#fdc96e"/>
<rect x="445.96" y="345.30" width="4.89" height="1.70" fill="#f08a7a" stroke="#1a1200" stroke-opacity=".5" stroke-width=".3"/>
<rect x="445.96" y="347.00" width="4.89" height="63.80" fill="#3fa08f" stroke="#1a1200" stroke-opacity=".5" stroke-width=".3"/>
<rect x="445.96" y="320.3" width="4.89" height="90.50" fill="none" stroke="#2a2000" stroke-opacity=".85" stroke-width=".45"/>
<rect x="450.84" y="320.3" width="4.89" height="90.50" fill="#fdc96e"/>
<rect x="450.84" y="348.30" width="4.89" height="62.50" fill="#3fa08f" stroke="#1a1200" stroke-opacity=".5" stroke-width=".3"/>
<rect x="450.84" y="320.3" width="4.89" height="90.50" fill="none" stroke="#2a2000" stroke-opacity=".85" stroke-width=".45"/>
<rect x="455.73" y="320.3" width="4.89" height="90.50" fill="#fdc96e"/>
<rect x="455.73" y="351.50" width="4.89" height="1.70" fill="#2a6fd0" stroke="#1a1200" stroke-opacity=".5" stroke-width=".3"/>
<rect x="455.73" y="353.20" width="4.89" height="57.60" fill="#3fa08f" stroke="#1a1200" stroke-opacity=".5" stroke-width=".3"/>
<rect x="455.73" y="320.3" width="4.89" height="90.50" fill="none" stroke="#2a2000" stroke-opacity=".85" stroke-width=".45"/>
<rect x="460.61" y="320.3" width="4.89" height="90.50" fill="#fdc96e"/>
<rect x="460.61" y="348.30" width="4.89" height="3.70" fill="#b07a3a" stroke="#1a1200" stroke-opacity=".5" stroke-width=".3"/>
<rect x="460.61" y="352.00" width="4.89" height="1.30" fill="#33a02c" stroke="#1a1200" stroke-opacity=".5" stroke-width=".3"/>
<rect x="460.61" y="353.30" width="4.89" height="57.50" fill="#3fa08f" stroke="#1a1200" stroke-opacity=".5" stroke-width=".3"/>
<rect x="460.61" y="320.3" width="4.89" height="90.50" fill="none" stroke="#2a2000" stroke-opacity=".85" stroke-width=".45"/>
<rect x="470.00" y="320.3" width="4.92" height="90.50" fill="#fdc96e"/>
<rect x="470.00" y="365.70" width="4.92" height="45.10" fill="#3fa08f" stroke="#1a1200" stroke-opacity=".5" stroke-width=".3"/>
<rect x="470.00" y="320.3" width="4.92" height="90.50" fill="none" stroke="#2a2000" stroke-opacity=".85" stroke-width=".45"/>
<rect x="474.93" y="320.3" width="4.92" height="90.50" fill="#fdc96e"/>
<rect x="474.93" y="358.70" width="4.92" height="52.10" fill="#3fa08f" stroke="#1a1200" stroke-opacity=".5" stroke-width=".3"/>
<rect x="474.93" y="320.3" width="4.92" height="90.50" fill="none" stroke="#2a2000" stroke-opacity=".85" stroke-width=".45"/>
<rect x="479.85" y="320.3" width="4.92" height="90.50" fill="#fdc96e"/>
<rect x="479.85" y="351.50" width="4.92" height="1.30" fill="#33a02c" stroke="#1a1200" stroke-opacity=".5" stroke-width=".3"/>
<rect x="479.85" y="352.80" width="4.92" height="58.00" fill="#3fa08f" stroke="#1a1200" stroke-opacity=".5" stroke-width=".3"/>
<rect x="479.85" y="320.3" width="4.92" height="90.50" fill="none" stroke="#2a2000" stroke-opacity=".85" stroke-width=".45"/>
<rect x="484.77" y="320.3" width="4.92" height="90.50" fill="#fdc96e"/>
<rect x="484.77" y="376.70" width="4.92" height="30.90" fill="#3fa08f" stroke="#1a1200" stroke-opacity=".5" stroke-width=".3"/>
<rect x="484.77" y="407.60" width="4.92" height="3.20" fill="#6fd0f5" stroke="#1a1200" stroke-opacity=".5" stroke-width=".3"/>
<rect x="484.77" y="320.3" width="4.92" height="90.50" fill="none" stroke="#2a2000" stroke-opacity=".85" stroke-width=".45"/>
<rect x="494.20" y="320.3" width="4.87" height="90.50" fill="#fdc96e"/>
<rect x="494.20" y="351.50" width="4.87" height="59.30" fill="#3fa08f" stroke="#1a1200" stroke-opacity=".5" stroke-width=".3"/>
<rect x="494.20" y="320.3" width="4.87" height="90.50" fill="none" stroke="#2a2000" stroke-opacity=".85" stroke-width=".45"/>
<rect x="499.07" y="320.3" width="4.87" height="90.50" fill="#fdc96e"/>
<rect x="499.07" y="320.30" width="4.87" height="3.30" fill="#33a02c" stroke="#1a1200" stroke-opacity=".5" stroke-width=".3"/>
<rect x="499.07" y="352.50" width="4.87" height="58.30" fill="#3fa08f" stroke="#1a1200" stroke-opacity=".5" stroke-width=".3"/>
<rect x="499.07" y="320.3" width="4.87" height="90.50" fill="none" stroke="#2a2000" stroke-opacity=".85" stroke-width=".45"/>
<rect x="503.93" y="320.3" width="4.87" height="90.50" fill="#fdc96e"/>
<rect x="503.93" y="346.70" width="4.87" height="6.50" fill="#f08a7a" stroke="#1a1200" stroke-opacity=".5" stroke-width=".3"/>
<rect x="503.93" y="353.20" width="4.87" height="57.60" fill="#3fa08f" stroke="#1a1200" stroke-opacity=".5" stroke-width=".3"/>
<rect x="503.93" y="320.3" width="4.87" height="90.50" fill="none" stroke="#2a2000" stroke-opacity=".85" stroke-width=".45"/>
<rect x="508.80" y="320.3" width="4.87" height="90.50" fill="#fdc96e"/>
<rect x="508.80" y="354.00" width="4.87" height="56.80" fill="#3fa08f" stroke="#1a1200" stroke-opacity=".5" stroke-width=".3"/>
<rect x="508.80" y="320.3" width="4.87" height="90.50" fill="none" stroke="#2a2000" stroke-opacity=".85" stroke-width=".45"/>
<rect x="513.67" y="320.3" width="4.87" height="90.50" fill="#fdc96e"/>
<rect x="513.67" y="354.50" width="4.87" height="56.30" fill="#3fa08f" stroke="#1a1200" stroke-opacity=".5" stroke-width=".3"/>
<rect x="513.67" y="320.3" width="4.87" height="90.50" fill="none" stroke="#2a2000" stroke-opacity=".85" stroke-width=".45"/>
<rect x="518.53" y="320.3" width="4.87" height="90.50" fill="#fdc96e"/>
<rect x="518.53" y="320.30" width="4.87" height="2.00" fill="#33a02c" stroke="#1a1200" stroke-opacity=".5" stroke-width=".3"/>
<rect x="518.53" y="354.50" width="4.87" height="56.30" fill="#3fa08f" stroke="#1a1200" stroke-opacity=".5" stroke-width=".3"/>
<rect x="518.53" y="320.3" width="4.87" height="90.50" fill="none" stroke="#2a2000" stroke-opacity=".85" stroke-width=".45"/>
<rect x="523.40" y="320.3" width="4.87" height="90.50" fill="#fdc96e"/>
<rect x="523.40" y="358.70" width="4.87" height="52.10" fill="#3fa08f" stroke="#1a1200" stroke-opacity=".5" stroke-width=".3"/>
<rect x="523.40" y="320.3" width="4.87" height="90.50" fill="none" stroke="#2a2000" stroke-opacity=".85" stroke-width=".45"/>
<rect x="528.27" y="320.3" width="4.87" height="90.50" fill="#fdc96e"/>
<rect x="528.27" y="320.30" width="4.87" height="3.30" fill="#33a02c" stroke="#1a1200" stroke-opacity=".5" stroke-width=".3"/>
<rect x="528.27" y="362.50" width="4.87" height="48.30" fill="#3fa08f" stroke="#1a1200" stroke-opacity=".5" stroke-width=".3"/>
<rect x="528.27" y="320.3" width="4.87" height="90.50" fill="none" stroke="#2a2000" stroke-opacity=".85" stroke-width=".45"/>
<rect x="533.13" y="320.3" width="4.87" height="90.50" fill="#fdc96e"/>
<rect x="533.13" y="355.70" width="4.87" height="55.10" fill="#3fa08f" stroke="#1a1200" stroke-opacity=".5" stroke-width=".3"/>
<rect x="533.13" y="320.3" width="4.87" height="90.50" fill="none" stroke="#2a2000" stroke-opacity=".85" stroke-width=".45"/>
<rect x="542.50" y="320.3" width="4.89" height="90.50" fill="#fdc96e"/>
<rect x="542.50" y="360.30" width="4.89" height="50.50" fill="#3fa08f" stroke="#1a1200" stroke-opacity=".5" stroke-width=".3"/>
<rect x="542.50" y="320.3" width="4.89" height="90.50" fill="none" stroke="#2a2000" stroke-opacity=".85" stroke-width=".45"/>
<rect x="547.39" y="320.3" width="4.89" height="90.50" fill="#fdc96e"/>
<rect x="547.39" y="361.50" width="4.89" height="49.30" fill="#3fa08f" stroke="#1a1200" stroke-opacity=".5" stroke-width=".3"/>
<rect x="547.39" y="320.3" width="4.89" height="90.50" fill="none" stroke="#2a2000" stroke-opacity=".85" stroke-width=".45"/>
<rect x="552.27" y="320.3" width="4.89" height="90.50" fill="#fdc96e"/>
<rect x="552.27" y="361.50" width="4.89" height="49.30" fill="#3fa08f" stroke="#1a1200" stroke-opacity=".5" stroke-width=".3"/>
<rect x="552.27" y="320.3" width="4.89" height="90.50" fill="none" stroke="#2a2000" stroke-opacity=".85" stroke-width=".45"/>
<rect x="557.16" y="320.3" width="4.89" height="90.50" fill="#fdc96e"/>
<rect x="557.16" y="362.00" width="4.89" height="48.80" fill="#3fa08f" stroke="#1a1200" stroke-opacity=".5" stroke-width=".3"/>
<rect x="557.16" y="320.3" width="4.89" height="90.50" fill="none" stroke="#2a2000" stroke-opacity=".85" stroke-width=".45"/>
<rect x="562.04" y="320.3" width="4.89" height="90.50" fill="#fdc96e"/>
<rect x="562.04" y="363.30" width="4.89" height="47.50" fill="#3fa08f" stroke="#1a1200" stroke-opacity=".5" stroke-width=".3"/>
<rect x="562.04" y="320.3" width="4.89" height="90.50" fill="none" stroke="#2a2000" stroke-opacity=".85" stroke-width=".45"/>
<rect x="566.93" y="320.3" width="4.89" height="90.50" fill="#fdc96e"/>
<rect x="566.93" y="365.00" width="4.89" height="45.80" fill="#3fa08f" stroke="#1a1200" stroke-opacity=".5" stroke-width=".3"/>
<rect x="566.93" y="320.3" width="4.89" height="90.50" fill="none" stroke="#2a2000" stroke-opacity=".85" stroke-width=".45"/>
<rect x="571.81" y="320.3" width="4.89" height="90.50" fill="#fdc96e"/>
<rect x="571.81" y="365.30" width="4.89" height="45.50" fill="#3fa08f" stroke="#1a1200" stroke-opacity=".5" stroke-width=".3"/>
<rect x="571.81" y="320.3" width="4.89" height="90.50" fill="none" stroke="#2a2000" stroke-opacity=".85" stroke-width=".45"/>
<rect x="581.20" y="320.3" width="4.88" height="90.50" fill="#fdc96e"/>
<rect x="581.20" y="364.50" width="4.88" height="46.30" fill="#3fa08f" stroke="#1a1200" stroke-opacity=".5" stroke-width=".3"/>
<rect x="581.20" y="320.3" width="4.88" height="90.50" fill="none" stroke="#2a2000" stroke-opacity=".85" stroke-width=".45"/>
<rect x="586.08" y="320.3" width="4.88" height="90.50" fill="#fdc96e"/>
<rect x="586.08" y="359.50" width="4.88" height="51.30" fill="#3fa08f" stroke="#1a1200" stroke-opacity=".5" stroke-width=".3"/>
<rect x="586.08" y="320.3" width="4.88" height="90.50" fill="none" stroke="#2a2000" stroke-opacity=".85" stroke-width=".45"/>
<rect x="590.97" y="320.3" width="4.88" height="90.50" fill="#fdc96e"/>
<rect x="590.97" y="361.20" width="4.88" height="49.60" fill="#3fa08f" stroke="#1a1200" stroke-opacity=".5" stroke-width=".3"/>
<rect x="590.97" y="320.3" width="4.88" height="90.50" fill="none" stroke="#2a2000" stroke-opacity=".85" stroke-width=".45"/>
<rect x="595.85" y="320.3" width="4.88" height="90.50" fill="#fdc96e"/>
<rect x="595.85" y="365.30" width="4.88" height="45.50" fill="#3fa08f" stroke="#1a1200" stroke-opacity=".5" stroke-width=".3"/>
<rect x="595.85" y="320.3" width="4.88" height="90.50" fill="none" stroke="#2a2000" stroke-opacity=".85" stroke-width=".45"/>
<rect x="600.73" y="320.3" width="4.88" height="90.50" fill="#fdc96e"/>
<rect x="600.73" y="365.70" width="4.88" height="45.10" fill="#3fa08f" stroke="#1a1200" stroke-opacity=".5" stroke-width=".3"/>
<rect x="600.73" y="320.3" width="4.88" height="90.50" fill="none" stroke="#2a2000" stroke-opacity=".85" stroke-width=".45"/>
<rect x="605.62" y="320.3" width="4.88" height="90.50" fill="#fdc96e"/>
<rect x="605.62" y="366.20" width="4.88" height="3.30" fill="#f08a7a" stroke="#1a1200" stroke-opacity=".5" stroke-width=".3"/>
<rect x="605.62" y="369.50" width="4.88" height="41.30" fill="#3fa08f" stroke="#1a1200" stroke-opacity=".5" stroke-width=".3"/>
<rect x="605.62" y="320.3" width="4.88" height="90.50" fill="none" stroke="#2a2000" stroke-opacity=".85" stroke-width=".45"/>
<rect x="619.70" y="320.3" width="5.00" height="90.50" fill="#fdc96e"/>
<rect x="619.70" y="348.70" width="5.00" height="1.30" fill="#f08a7a" stroke="#1a1200" stroke-opacity=".5" stroke-width=".3"/>
<rect x="619.70" y="350.00" width="5.00" height="60.80" fill="#3fa08f" stroke="#1a1200" stroke-opacity=".5" stroke-width=".3"/>
<rect x="619.70" y="320.3" width="5.00" height="90.50" fill="none" stroke="#2a2000" stroke-opacity=".85" stroke-width=".45"/>
<rect x="624.70" y="320.3" width="5.00" height="90.50" fill="#fdc96e"/>
<rect x="624.70" y="346.30" width="5.00" height="2.00" fill="#f08a7a" stroke="#1a1200" stroke-opacity=".5" stroke-width=".3"/>
<rect x="624.70" y="348.30" width="5.00" height="62.50" fill="#3fa08f" stroke="#1a1200" stroke-opacity=".5" stroke-width=".3"/>
<rect x="624.70" y="320.3" width="5.00" height="90.50" fill="none" stroke="#2a2000" stroke-opacity=".85" stroke-width=".45"/>
<rect x="629.70" y="320.3" width="5.00" height="90.50" fill="#fdc96e"/>
<rect x="629.70" y="349.00" width="5.00" height="2.20" fill="#f08a7a" stroke="#1a1200" stroke-opacity=".5" stroke-width=".3"/>
<rect x="629.70" y="351.20" width="5.00" height="59.60" fill="#3fa08f" stroke="#1a1200" stroke-opacity=".5" stroke-width=".3"/>
<rect x="629.70" y="320.3" width="5.00" height="90.50" fill="none" stroke="#2a2000" stroke-opacity=".85" stroke-width=".45"/>
<rect x="644.00" y="320.3" width="4.90" height="90.50" fill="#fdc96e"/>
<rect x="644.00" y="346.20" width="4.90" height="64.60" fill="#3fa08f" stroke="#1a1200" stroke-opacity=".5" stroke-width=".3"/>
<rect x="644.00" y="320.3" width="4.90" height="90.50" fill="none" stroke="#2a2000" stroke-opacity=".85" stroke-width=".45"/>
<rect x="658.30" y="320.3" width="5.10" height="90.50" fill="#fdc96e"/>
<rect x="658.30" y="352.80" width="5.10" height="1.70" fill="#b07a3a" stroke="#1a1200" stroke-opacity=".5" stroke-width=".3"/>
<rect x="658.30" y="354.50" width="5.10" height="56.30" fill="#3fa08f" stroke="#1a1200" stroke-opacity=".5" stroke-width=".3"/>
<rect x="658.30" y="320.3" width="5.10" height="90.50" fill="none" stroke="#2a2000" stroke-opacity=".85" stroke-width=".45"/>
<line x1="20" y1="420.2" x2="665" y2="420.2" stroke="#555" stroke-width="0.8"/>
<text transform="translate(33.8,429.2) rotate(45)" font-size="9.4" fill="#111">DSS_HE</text>
<text transform="translate(62.5,429.2) rotate(45)" font-size="9.4" fill="#111">Longlin</text>
<text transform="translate(76.6,429.2) rotate(45)" font-size="9.4" fill="#111">Qihe3</text>
<text transform="translate(91.5,429.2) rotate(45)" font-size="9.4" fill="#111">Qihe</text>
<text transform="translate(120.4,429.2) rotate(45)" font-size="9.4" fill="#111">Xitoucun</text>
<text transform="translate(149.6,429.2) rotate(45)" font-size="9.4" fill="#111">LaCen</text>
<text transform="translate(173.8,429.2) rotate(45)" font-size="9.4" fill="#111">Suogang</text>
<text transform="translate(202.6,429.2) rotate(45)" font-size="9.4" fill="#111">BaBanQinCen</text>
<text transform="translate(231.8,429.2) rotate(45)" font-size="9.4" fill="#111">Yiyang</text>
<text transform="translate(255.8,429.2) rotate(45)" font-size="9.4" fill="#111">Tanshishan</text>
<text transform="translate(275.4,429.2) rotate(45)" font-size="9.4" fill="#111">Layi</text>
<text transform="translate(304.1,429.2) rotate(45)" font-size="9.4" fill="#111">GaoHuaHua</text>
<text transform="translate(333.0,429.2) rotate(45)" font-size="9.4" fill="#111">Chuanyun</text>
<text transform="translate(357.2,429.2) rotate(45)" font-size="9.4" fill="#111">HHC_Cliff</text>
<text transform="translate(376.4,429.2) rotate(45)" font-size="9.4" fill="#111">WLR_MN</text>
<text transform="translate(395.8,429.2) rotate(45)" font-size="9.4" fill="#111">WLR_LN</text>
<text transform="translate(415.2,429.2) rotate(45)" font-size="9.4" fill="#111">WLR_BA</text>
<text transform="translate(444.2,429.2) rotate(45)" font-size="9.4" fill="#111">Upper_YR_LN</text>
<text transform="translate(478.1,429.2) rotate(45)" font-size="9.4" fill="#111">Upper_YR_IA</text>
<text transform="translate(511.9,429.2) rotate(45)" font-size="9.4" fill="#111">YR_MN</text>
<text transform="translate(555.4,429.2) rotate(45)" font-size="9.4" fill="#111">YR_LN</text>
<text transform="translate(594.1,429.2) rotate(45)" font-size="9.4" fill="#111">YR_LBIA</text>
<text transform="translate(623.0,429.2) rotate(45)" font-size="9.4" fill="#111">Xiaojinshan</text>
<text transform="translate(642.2,429.2) rotate(45)" font-size="9.4" fill="#111">Boshan</text>
<text transform="translate(656.6,429.2) rotate(45)" font-size="9.4" fill="#111">Bianbian</text>
</g>
</svg>
</body></html>
